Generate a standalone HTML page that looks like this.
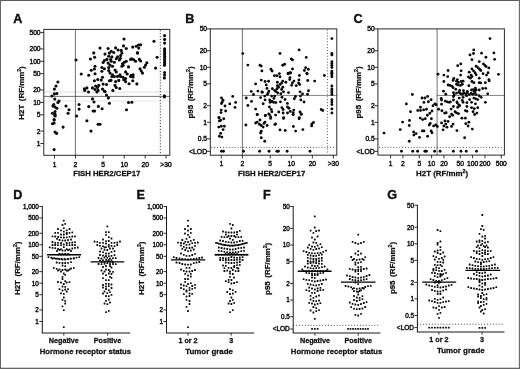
<!DOCTYPE html>
<html><head><meta charset="utf-8"><title>Figure</title>
<style>
html,body{margin:0;padding:0;background:#fff;}
body{width:520px;height:369px;overflow:hidden;}
svg{display:block;font-family:'Liberation Sans', Arial, sans-serif;font-weight:bold;}
text{stroke:#111;stroke-width:0.26px;}
</style></head><body>
<svg width="520" height="369" viewBox="0 0 520 369">
<rect width="520" height="369" fill="#fff"/>
<line x1="43.8" y1="92" x2="169.8" y2="92" stroke="#cccccc" stroke-width="0.7"/>
<line x1="43.8" y1="101" x2="169.8" y2="101" stroke="#dcdcdc" stroke-width="0.7"/>
<line x1="43.8" y1="96.4" x2="169.8" y2="96.4" stroke="#333" stroke-width="0.7"/>
<line x1="75.4" y1="29.4" x2="75.4" y2="155.3" stroke="#333" stroke-width="0.7"/>
<line x1="160.3" y1="30.2" x2="160.3" y2="153.4" stroke="#333" stroke-width="1.0" stroke-dasharray="1.1 1.8"/>
<text x="13.3" y="22.8" font-size="12.6" text-anchor="start" style="stroke-width:0.4px" fill="#111">A</text>
<rect x="43.8" y="29.4" width="126" height="125.9" fill="none" stroke="#2a2a2a" stroke-width="1"/>
<line x1="40.4" y1="32.57" x2="43.8" y2="32.57" stroke="#1a1a1a" stroke-width="0.9"/>
<text x="40.6" y="34.97" font-size="6.7" text-anchor="end" style="stroke-width:0.42px;font-weight:normal" fill="#111">500</text>
<line x1="40.4" y1="48.93" x2="43.8" y2="48.93" stroke="#1a1a1a" stroke-width="0.9"/>
<text x="40.6" y="51.33" font-size="6.7" text-anchor="end" style="stroke-width:0.42px;font-weight:normal" fill="#111">200</text>
<line x1="40.4" y1="61.3" x2="43.8" y2="61.3" stroke="#1a1a1a" stroke-width="0.9"/>
<text x="40.6" y="63.7" font-size="6.7" text-anchor="end" style="stroke-width:0.42px;font-weight:normal" fill="#111">100</text>
<line x1="40.4" y1="73.67" x2="43.8" y2="73.67" stroke="#1a1a1a" stroke-width="0.9"/>
<text x="40.6" y="76.07" font-size="6.7" text-anchor="end" style="stroke-width:0.42px;font-weight:normal" fill="#111">50</text>
<line x1="40.4" y1="90.03" x2="43.8" y2="90.03" stroke="#1a1a1a" stroke-width="0.9"/>
<text x="40.6" y="92.43" font-size="6.7" text-anchor="end" style="stroke-width:0.42px;font-weight:normal" fill="#111">20</text>
<line x1="40.4" y1="102.4" x2="43.8" y2="102.4" stroke="#1a1a1a" stroke-width="0.9"/>
<text x="40.6" y="104.8" font-size="6.7" text-anchor="end" style="stroke-width:0.42px;font-weight:normal" fill="#111">10</text>
<line x1="40.4" y1="114.77" x2="43.8" y2="114.77" stroke="#1a1a1a" stroke-width="0.9"/>
<text x="40.6" y="117.17" font-size="6.7" text-anchor="end" style="stroke-width:0.42px;font-weight:normal" fill="#111">5</text>
<line x1="40.4" y1="131.13" x2="43.8" y2="131.13" stroke="#1a1a1a" stroke-width="0.9"/>
<text x="40.6" y="133.53" font-size="6.7" text-anchor="end" style="stroke-width:0.42px;font-weight:normal" fill="#111">2</text>
<line x1="40.4" y1="143.5" x2="43.8" y2="143.5" stroke="#1a1a1a" stroke-width="0.9"/>
<text x="40.6" y="145.9" font-size="6.7" text-anchor="end" style="stroke-width:0.42px;font-weight:normal" fill="#111">1</text>
<line x1="54.5" y1="155.3" x2="54.5" y2="158.5" stroke="#1a1a1a" stroke-width="0.9"/>
<text x="54.5" y="166.5" font-size="6.7" text-anchor="middle" style="stroke-width:0.42px;font-weight:normal" fill="#111">1</text>
<line x1="75.48" y1="155.3" x2="75.48" y2="158.5" stroke="#1a1a1a" stroke-width="0.9"/>
<text x="75.48" y="166.5" font-size="6.7" text-anchor="middle" style="stroke-width:0.42px;font-weight:normal" fill="#111">2</text>
<line x1="103.22" y1="155.3" x2="103.22" y2="158.5" stroke="#1a1a1a" stroke-width="0.9"/>
<text x="103.22" y="166.5" font-size="6.7" text-anchor="middle" style="stroke-width:0.42px;font-weight:normal" fill="#111">5</text>
<line x1="124.2" y1="155.3" x2="124.2" y2="158.5" stroke="#1a1a1a" stroke-width="0.9"/>
<text x="124.2" y="166.5" font-size="6.7" text-anchor="middle" style="stroke-width:0.42px;font-weight:normal" fill="#111">10</text>
<line x1="145.18" y1="155.3" x2="145.18" y2="158.5" stroke="#1a1a1a" stroke-width="0.9"/>
<text x="145.18" y="166.5" font-size="6.7" text-anchor="middle" style="stroke-width:0.42px;font-weight:normal" fill="#111">20</text>
<line x1="166" y1="155.3" x2="166" y2="158.5" stroke="#1a1a1a" stroke-width="0.9"/>
<text x="166" y="166.5" font-size="6.7" text-anchor="middle" textLength="11.37" lengthAdjust="spacingAndGlyphs" style="stroke-width:0.42px;font-weight:normal" fill="#111">&gt;30</text>
<text x="24" y="119.7" font-size="7.9" text-anchor="start" word-spacing="1.4" transform="rotate(-90 24 119.7)" fill="#111" textLength="53.45" lengthAdjust="spacingAndGlyphs">H2T (RF/mm<tspan font-size="5.2" dy="-3.1">2</tspan><tspan dy="3.1">)</tspan></text>
<text x="106.8" y="176.3" font-size="7.9" text-anchor="middle" textLength="67.2" lengthAdjust="spacingAndGlyphs" fill="#111">FISH HER2/CEP17</text>
<line x1="242.4" y1="28.9" x2="242.4" y2="155.2" stroke="#333" stroke-width="0.7"/>
<line x1="242.4" y1="95.45" x2="336.8" y2="95.45" stroke="#333" stroke-width="0.6"/>
<line x1="211.3" y1="147.4" x2="335.3" y2="147.4" stroke="#444" stroke-width="0.9" stroke-dasharray="1 1.9"/>
<line x1="327.4" y1="29.7" x2="327.4" y2="153.4" stroke="#444" stroke-width="0.9" stroke-dasharray="1 1.9"/>
<text x="185.3" y="22.8" font-size="12.6" text-anchor="start" style="stroke-width:0.4px" fill="#111">B</text>
<rect x="210.3" y="28.9" width="126.5" height="126.3" fill="none" stroke="#2a2a2a" stroke-width="1"/>
<line x1="206.9" y1="28.86" x2="210.3" y2="28.86" stroke="#1a1a1a" stroke-width="0.9"/>
<text x="207.1" y="31.26" font-size="6.7" text-anchor="end" style="stroke-width:0.42px;font-weight:normal" fill="#111">50</text>
<line x1="206.9" y1="50.74" x2="210.3" y2="50.74" stroke="#1a1a1a" stroke-width="0.9"/>
<text x="207.1" y="53.14" font-size="6.7" text-anchor="end" style="stroke-width:0.42px;font-weight:normal" fill="#111">20</text>
<line x1="206.9" y1="67.3" x2="210.3" y2="67.3" stroke="#1a1a1a" stroke-width="0.9"/>
<text x="207.1" y="69.7" font-size="6.7" text-anchor="end" style="stroke-width:0.42px;font-weight:normal" fill="#111">10</text>
<line x1="206.9" y1="83.86" x2="210.3" y2="83.86" stroke="#1a1a1a" stroke-width="0.9"/>
<text x="207.1" y="86.26" font-size="6.7" text-anchor="end" style="stroke-width:0.42px;font-weight:normal" fill="#111">5</text>
<line x1="206.9" y1="105.74" x2="210.3" y2="105.74" stroke="#1a1a1a" stroke-width="0.9"/>
<text x="207.1" y="108.14" font-size="6.7" text-anchor="end" style="stroke-width:0.42px;font-weight:normal" fill="#111">2</text>
<line x1="206.9" y1="122.3" x2="210.3" y2="122.3" stroke="#1a1a1a" stroke-width="0.9"/>
<text x="207.1" y="124.7" font-size="6.7" text-anchor="end" style="stroke-width:0.42px;font-weight:normal" fill="#111">1</text>
<line x1="206.9" y1="138.86" x2="210.3" y2="138.86" stroke="#1a1a1a" stroke-width="0.9"/>
<text x="207.1" y="141.26" font-size="6.7" text-anchor="end" style="stroke-width:0.42px;font-weight:normal" fill="#111">0.5</text>
<line x1="206.9" y1="151.3" x2="210.3" y2="151.3" stroke="#1a1a1a" stroke-width="0.9"/>
<text x="207.1" y="153.7" font-size="6.7" text-anchor="end" textLength="18.06" lengthAdjust="spacingAndGlyphs" style="stroke-width:0.42px;font-weight:normal" fill="#111">&lt;LOD</text>
<line x1="221.3" y1="155.2" x2="221.3" y2="158.4" stroke="#1a1a1a" stroke-width="0.9"/>
<text x="221.3" y="166.4" font-size="6.7" text-anchor="middle" style="stroke-width:0.42px;font-weight:normal" fill="#111">1</text>
<line x1="242.37" y1="155.2" x2="242.37" y2="158.4" stroke="#1a1a1a" stroke-width="0.9"/>
<text x="242.37" y="166.4" font-size="6.7" text-anchor="middle" style="stroke-width:0.42px;font-weight:normal" fill="#111">2</text>
<line x1="270.23" y1="155.2" x2="270.23" y2="158.4" stroke="#1a1a1a" stroke-width="0.9"/>
<text x="270.23" y="166.4" font-size="6.7" text-anchor="middle" style="stroke-width:0.42px;font-weight:normal" fill="#111">5</text>
<line x1="291.3" y1="155.2" x2="291.3" y2="158.4" stroke="#1a1a1a" stroke-width="0.9"/>
<text x="291.3" y="166.4" font-size="6.7" text-anchor="middle" style="stroke-width:0.42px;font-weight:normal" fill="#111">10</text>
<line x1="312.37" y1="155.2" x2="312.37" y2="158.4" stroke="#1a1a1a" stroke-width="0.9"/>
<text x="312.37" y="166.4" font-size="6.7" text-anchor="middle" style="stroke-width:0.42px;font-weight:normal" fill="#111">20</text>
<line x1="333.4" y1="155.2" x2="333.4" y2="158.4" stroke="#1a1a1a" stroke-width="0.9"/>
<text x="333.4" y="166.4" font-size="6.7" text-anchor="middle" textLength="11.37" lengthAdjust="spacingAndGlyphs" style="stroke-width:0.42px;font-weight:normal" fill="#111">&gt;30</text>
<text x="193.3" y="118.5" font-size="7.9" text-anchor="start" word-spacing="1.4" transform="rotate(-90 193.3 118.5)" fill="#111" textLength="52.14" lengthAdjust="spacingAndGlyphs">p95 (RF/mm<tspan font-size="5.2" dy="-3.1">2</tspan><tspan dy="3.1">)</tspan></text>
<text x="271.6" y="176.3" font-size="7.9" text-anchor="middle" textLength="67.2" lengthAdjust="spacingAndGlyphs" fill="#111">FISH HER2/CEP17</text>
<line x1="437.1" y1="28.9" x2="437.1" y2="155.1" stroke="#333" stroke-width="0.7"/>
<line x1="437.1" y1="95.45" x2="504.4" y2="95.45" stroke="#333" stroke-width="0.6"/>
<line x1="378.9" y1="147.4" x2="503" y2="147.4" stroke="#444" stroke-width="0.9" stroke-dasharray="1 1.9"/>
<text x="353.5" y="22.8" font-size="12.6" text-anchor="start" style="stroke-width:0.4px" fill="#111">C</text>
<rect x="377.9" y="28.9" width="126.5" height="126.2" fill="none" stroke="#2a2a2a" stroke-width="1"/>
<line x1="374.5" y1="28.86" x2="377.9" y2="28.86" stroke="#1a1a1a" stroke-width="0.9"/>
<text x="374.7" y="31.26" font-size="6.7" text-anchor="end" style="stroke-width:0.42px;font-weight:normal" fill="#111">50</text>
<line x1="374.5" y1="50.74" x2="377.9" y2="50.74" stroke="#1a1a1a" stroke-width="0.9"/>
<text x="374.7" y="53.14" font-size="6.7" text-anchor="end" style="stroke-width:0.42px;font-weight:normal" fill="#111">20</text>
<line x1="374.5" y1="67.3" x2="377.9" y2="67.3" stroke="#1a1a1a" stroke-width="0.9"/>
<text x="374.7" y="69.7" font-size="6.7" text-anchor="end" style="stroke-width:0.42px;font-weight:normal" fill="#111">10</text>
<line x1="374.5" y1="83.86" x2="377.9" y2="83.86" stroke="#1a1a1a" stroke-width="0.9"/>
<text x="374.7" y="86.26" font-size="6.7" text-anchor="end" style="stroke-width:0.42px;font-weight:normal" fill="#111">5</text>
<line x1="374.5" y1="105.74" x2="377.9" y2="105.74" stroke="#1a1a1a" stroke-width="0.9"/>
<text x="374.7" y="108.14" font-size="6.7" text-anchor="end" style="stroke-width:0.42px;font-weight:normal" fill="#111">2</text>
<line x1="374.5" y1="122.3" x2="377.9" y2="122.3" stroke="#1a1a1a" stroke-width="0.9"/>
<text x="374.7" y="124.7" font-size="6.7" text-anchor="end" style="stroke-width:0.42px;font-weight:normal" fill="#111">1</text>
<line x1="374.5" y1="138.86" x2="377.9" y2="138.86" stroke="#1a1a1a" stroke-width="0.9"/>
<text x="374.7" y="141.26" font-size="6.7" text-anchor="end" style="stroke-width:0.42px;font-weight:normal" fill="#111">0.5</text>
<line x1="374.5" y1="151.3" x2="377.9" y2="151.3" stroke="#1a1a1a" stroke-width="0.9"/>
<text x="374.7" y="153.7" font-size="6.7" text-anchor="end" textLength="18.06" lengthAdjust="spacingAndGlyphs" style="stroke-width:0.42px;font-weight:normal" fill="#111">&lt;LOD</text>
<line x1="390.6" y1="155.1" x2="390.6" y2="158.3" stroke="#1a1a1a" stroke-width="0.9"/>
<text x="390.6" y="166.3" font-size="6.7" text-anchor="middle" style="stroke-width:0.42px;font-weight:normal" fill="#111">1</text>
<line x1="402.94" y1="155.1" x2="402.94" y2="158.3" stroke="#1a1a1a" stroke-width="0.9"/>
<text x="402.94" y="166.3" font-size="6.7" text-anchor="middle" style="stroke-width:0.42px;font-weight:normal" fill="#111">2</text>
<line x1="419.26" y1="155.1" x2="419.26" y2="158.3" stroke="#1a1a1a" stroke-width="0.9"/>
<text x="419.26" y="166.3" font-size="6.7" text-anchor="middle" style="stroke-width:0.42px;font-weight:normal" fill="#111">5</text>
<line x1="431.6" y1="155.1" x2="431.6" y2="158.3" stroke="#1a1a1a" stroke-width="0.9"/>
<text x="431.6" y="166.3" font-size="6.7" text-anchor="middle" style="stroke-width:0.42px;font-weight:normal" fill="#111">10</text>
<line x1="443.94" y1="155.1" x2="443.94" y2="158.3" stroke="#1a1a1a" stroke-width="0.9"/>
<text x="443.94" y="166.3" font-size="6.7" text-anchor="middle" style="stroke-width:0.42px;font-weight:normal" fill="#111">20</text>
<line x1="460.26" y1="155.1" x2="460.26" y2="158.3" stroke="#1a1a1a" stroke-width="0.9"/>
<text x="460.26" y="166.3" font-size="6.7" text-anchor="middle" style="stroke-width:0.42px;font-weight:normal" fill="#111">50</text>
<line x1="472.6" y1="155.1" x2="472.6" y2="158.3" stroke="#1a1a1a" stroke-width="0.9"/>
<text x="472.6" y="166.3" font-size="6.7" text-anchor="middle" style="stroke-width:0.42px;font-weight:normal" fill="#111">100</text>
<line x1="484.94" y1="155.1" x2="484.94" y2="158.3" stroke="#1a1a1a" stroke-width="0.9"/>
<text x="484.94" y="166.3" font-size="6.7" text-anchor="middle" style="stroke-width:0.42px;font-weight:normal" fill="#111">200</text>
<line x1="501.26" y1="155.1" x2="501.26" y2="158.3" stroke="#1a1a1a" stroke-width="0.9"/>
<text x="501.26" y="166.3" font-size="6.7" text-anchor="middle" style="stroke-width:0.42px;font-weight:normal" fill="#111">500</text>
<text x="361.2" y="118.5" font-size="7.9" text-anchor="start" word-spacing="1.4" transform="rotate(-90 361.2 118.5)" fill="#111" textLength="52.14" lengthAdjust="spacingAndGlyphs">p95 (RF/mm<tspan font-size="5.2" dy="-3.1">2</tspan><tspan dy="3.1">)</tspan></text>
<text x="442.1" y="176.3" font-size="7.9" text-anchor="middle" textLength="52.05" lengthAdjust="spacingAndGlyphs" fill="#111">H2T (RF/mm<tspan font-size="5.2" dy="-3.1">2</tspan><tspan dy="3.1">)</tspan></text>
<text x="13.2" y="199.4" font-size="12.6" text-anchor="start" style="stroke-width:0.4px" fill="#111">D</text>
<line x1="42.3" y1="206" x2="42.3" y2="333" stroke="#1a1a1a" stroke-width="1"/>
<line x1="41.8" y1="333" x2="130.2" y2="333" stroke="#1a1a1a" stroke-width="1"/>
<line x1="39.3" y1="206.45" x2="42.3" y2="206.45" stroke="#1a1a1a" stroke-width="0.9"/>
<text x="38.9" y="208.8" font-size="6.35" text-anchor="end" style="stroke-width:0.42px;font-weight:normal" fill="#111">1,000</text>
<line x1="39.3" y1="217.99" x2="42.3" y2="217.99" stroke="#1a1a1a" stroke-width="0.9"/>
<text x="38.9" y="220.34" font-size="6.35" text-anchor="end" style="stroke-width:0.42px;font-weight:normal" fill="#111">500</text>
<line x1="39.3" y1="233.26" x2="42.3" y2="233.26" stroke="#1a1a1a" stroke-width="0.9"/>
<text x="38.9" y="235.61" font-size="6.35" text-anchor="end" style="stroke-width:0.42px;font-weight:normal" fill="#111">200</text>
<line x1="39.3" y1="244.8" x2="42.3" y2="244.8" stroke="#1a1a1a" stroke-width="0.9"/>
<text x="38.9" y="247.15" font-size="6.35" text-anchor="end" style="stroke-width:0.42px;font-weight:normal" fill="#111">100</text>
<line x1="39.3" y1="256.34" x2="42.3" y2="256.34" stroke="#1a1a1a" stroke-width="0.9"/>
<text x="38.9" y="258.69" font-size="6.35" text-anchor="end" style="stroke-width:0.42px;font-weight:normal" fill="#111">50</text>
<line x1="39.3" y1="271.61" x2="42.3" y2="271.61" stroke="#1a1a1a" stroke-width="0.9"/>
<text x="38.9" y="273.96" font-size="6.35" text-anchor="end" style="stroke-width:0.42px;font-weight:normal" fill="#111">20</text>
<line x1="39.3" y1="283.15" x2="42.3" y2="283.15" stroke="#1a1a1a" stroke-width="0.9"/>
<text x="38.9" y="285.5" font-size="6.35" text-anchor="end" style="stroke-width:0.42px;font-weight:normal" fill="#111">10</text>
<line x1="39.3" y1="294.69" x2="42.3" y2="294.69" stroke="#1a1a1a" stroke-width="0.9"/>
<text x="38.9" y="297.04" font-size="6.35" text-anchor="end" style="stroke-width:0.42px;font-weight:normal" fill="#111">5</text>
<line x1="39.3" y1="309.96" x2="42.3" y2="309.96" stroke="#1a1a1a" stroke-width="0.9"/>
<text x="38.9" y="312.31" font-size="6.35" text-anchor="end" style="stroke-width:0.42px;font-weight:normal" fill="#111">2</text>
<line x1="39.3" y1="321.5" x2="42.3" y2="321.5" stroke="#1a1a1a" stroke-width="0.9"/>
<text x="38.9" y="323.85" font-size="6.35" text-anchor="end" style="stroke-width:0.42px;font-weight:normal" fill="#111">1</text>
<line x1="63.8" y1="333" x2="63.8" y2="335.6" stroke="#1a1a1a" stroke-width="0.9"/>
<text x="63.8" y="342.8" font-size="7.2" text-anchor="middle" fill="#111">Negative</text>
<line x1="107.6" y1="333" x2="107.6" y2="335.6" stroke="#1a1a1a" stroke-width="0.9"/>
<text x="107.6" y="342.8" font-size="7.2" text-anchor="middle" fill="#111">Positive</text>
<text x="19.9" y="295" font-size="7.9" text-anchor="start" word-spacing="1.4" transform="rotate(-90 19.9 295)" fill="#111" textLength="53.45" lengthAdjust="spacingAndGlyphs">H2T (RF/mm<tspan font-size="5.2" dy="-3.1">2</tspan><tspan dy="3.1">)</tspan></text>
<text x="85.4" y="354.1" font-size="7.9" text-anchor="middle" textLength="91.4" lengthAdjust="spacingAndGlyphs" fill="#111">Hormone receptor status</text>
<line x1="47.1" y1="254.7" x2="81.1" y2="254.7" stroke="#000" stroke-width="1.35"/>
<line x1="90.6" y1="261.9" x2="124.3" y2="261.9" stroke="#000" stroke-width="1.35"/>
<text x="136.4" y="199.4" font-size="12.6" text-anchor="start" style="stroke-width:0.4px" fill="#111">E</text>
<line x1="166.5" y1="206" x2="166.5" y2="333" stroke="#1a1a1a" stroke-width="1"/>
<line x1="166" y1="333" x2="254.2" y2="333" stroke="#1a1a1a" stroke-width="1"/>
<line x1="163.5" y1="206.45" x2="166.5" y2="206.45" stroke="#1a1a1a" stroke-width="0.9"/>
<text x="163.1" y="208.8" font-size="6.35" text-anchor="end" style="stroke-width:0.42px;font-weight:normal" fill="#111">1,000</text>
<line x1="163.5" y1="217.99" x2="166.5" y2="217.99" stroke="#1a1a1a" stroke-width="0.9"/>
<text x="163.1" y="220.34" font-size="6.35" text-anchor="end" style="stroke-width:0.42px;font-weight:normal" fill="#111">500</text>
<line x1="163.5" y1="233.26" x2="166.5" y2="233.26" stroke="#1a1a1a" stroke-width="0.9"/>
<text x="163.1" y="235.61" font-size="6.35" text-anchor="end" style="stroke-width:0.42px;font-weight:normal" fill="#111">200</text>
<line x1="163.5" y1="244.8" x2="166.5" y2="244.8" stroke="#1a1a1a" stroke-width="0.9"/>
<text x="163.1" y="247.15" font-size="6.35" text-anchor="end" style="stroke-width:0.42px;font-weight:normal" fill="#111">100</text>
<line x1="163.5" y1="256.34" x2="166.5" y2="256.34" stroke="#1a1a1a" stroke-width="0.9"/>
<text x="163.1" y="258.69" font-size="6.35" text-anchor="end" style="stroke-width:0.42px;font-weight:normal" fill="#111">50</text>
<line x1="163.5" y1="271.61" x2="166.5" y2="271.61" stroke="#1a1a1a" stroke-width="0.9"/>
<text x="163.1" y="273.96" font-size="6.35" text-anchor="end" style="stroke-width:0.42px;font-weight:normal" fill="#111">20</text>
<line x1="163.5" y1="283.15" x2="166.5" y2="283.15" stroke="#1a1a1a" stroke-width="0.9"/>
<text x="163.1" y="285.5" font-size="6.35" text-anchor="end" style="stroke-width:0.42px;font-weight:normal" fill="#111">10</text>
<line x1="163.5" y1="294.69" x2="166.5" y2="294.69" stroke="#1a1a1a" stroke-width="0.9"/>
<text x="163.1" y="297.04" font-size="6.35" text-anchor="end" style="stroke-width:0.42px;font-weight:normal" fill="#111">5</text>
<line x1="163.5" y1="309.96" x2="166.5" y2="309.96" stroke="#1a1a1a" stroke-width="0.9"/>
<text x="163.1" y="312.31" font-size="6.35" text-anchor="end" style="stroke-width:0.42px;font-weight:normal" fill="#111">2</text>
<line x1="163.5" y1="321.5" x2="166.5" y2="321.5" stroke="#1a1a1a" stroke-width="0.9"/>
<text x="163.1" y="323.85" font-size="6.35" text-anchor="end" style="stroke-width:0.42px;font-weight:normal" fill="#111">1</text>
<line x1="188" y1="333" x2="188" y2="335.6" stroke="#1a1a1a" stroke-width="0.9"/>
<text x="188" y="342.8" font-size="7.2" text-anchor="middle" fill="#111">1 or 2</text>
<line x1="231.2" y1="333" x2="231.2" y2="335.6" stroke="#1a1a1a" stroke-width="0.9"/>
<text x="231.2" y="342.8" font-size="7.2" text-anchor="middle" fill="#111">3</text>
<text x="143.9" y="295" font-size="7.9" text-anchor="start" word-spacing="1.4" transform="rotate(-90 143.9 295)" fill="#111" textLength="53.45" lengthAdjust="spacingAndGlyphs">H2T (RF/mm<tspan font-size="5.2" dy="-3.1">2</tspan><tspan dy="3.1">)</tspan></text>
<text x="209.1" y="354.1" font-size="7.9" text-anchor="middle" fill="#111">Tumor grade</text>
<line x1="171" y1="259.8" x2="205.2" y2="259.8" stroke="#000" stroke-width="1.35"/>
<line x1="214.6" y1="254.7" x2="248.4" y2="254.7" stroke="#000" stroke-width="1.35"/>
<line x1="293.2" y1="325.3" x2="379" y2="325.3" stroke="#333" stroke-width="0.9" stroke-dasharray="1 1.9"/>
<text x="263" y="199.4" font-size="12.6" text-anchor="start" style="stroke-width:0.4px" fill="#111">F</text>
<line x1="293.2" y1="206" x2="293.2" y2="333" stroke="#1a1a1a" stroke-width="1"/>
<line x1="292.7" y1="333" x2="380.4" y2="333" stroke="#1a1a1a" stroke-width="1"/>
<line x1="290.2" y1="206.49" x2="293.2" y2="206.49" stroke="#1a1a1a" stroke-width="0.9"/>
<text x="289.8" y="208.84" font-size="6.35" text-anchor="end" style="stroke-width:0.42px;font-weight:normal" fill="#111">50</text>
<line x1="290.2" y1="228.41" x2="293.2" y2="228.41" stroke="#1a1a1a" stroke-width="0.9"/>
<text x="289.8" y="230.76" font-size="6.35" text-anchor="end" style="stroke-width:0.42px;font-weight:normal" fill="#111">20</text>
<line x1="290.2" y1="245" x2="293.2" y2="245" stroke="#1a1a1a" stroke-width="0.9"/>
<text x="289.8" y="247.35" font-size="6.35" text-anchor="end" style="stroke-width:0.42px;font-weight:normal" fill="#111">10</text>
<line x1="290.2" y1="261.59" x2="293.2" y2="261.59" stroke="#1a1a1a" stroke-width="0.9"/>
<text x="289.8" y="263.94" font-size="6.35" text-anchor="end" style="stroke-width:0.42px;font-weight:normal" fill="#111">5</text>
<line x1="290.2" y1="283.51" x2="293.2" y2="283.51" stroke="#1a1a1a" stroke-width="0.9"/>
<text x="289.8" y="285.86" font-size="6.35" text-anchor="end" style="stroke-width:0.42px;font-weight:normal" fill="#111">2</text>
<line x1="290.2" y1="300.1" x2="293.2" y2="300.1" stroke="#1a1a1a" stroke-width="0.9"/>
<text x="289.8" y="302.45" font-size="6.35" text-anchor="end" style="stroke-width:0.42px;font-weight:normal" fill="#111">1</text>
<line x1="290.2" y1="316.69" x2="293.2" y2="316.69" stroke="#1a1a1a" stroke-width="0.9"/>
<text x="289.8" y="319.04" font-size="6.35" text-anchor="end" style="stroke-width:0.42px;font-weight:normal" fill="#111">0.5</text>
<line x1="290.2" y1="329" x2="293.2" y2="329" stroke="#1a1a1a" stroke-width="0.9"/>
<text x="289.8" y="331.35" font-size="6.35" text-anchor="end" textLength="17.11" lengthAdjust="spacingAndGlyphs" style="stroke-width:0.42px;font-weight:normal" fill="#111">&lt;LOD</text>
<line x1="315" y1="333" x2="315" y2="335.6" stroke="#1a1a1a" stroke-width="0.9"/>
<text x="315" y="342.8" font-size="7.2" text-anchor="middle" fill="#111">Negative</text>
<line x1="358.2" y1="333" x2="358.2" y2="335.6" stroke="#1a1a1a" stroke-width="0.9"/>
<text x="358.2" y="342.8" font-size="7.2" text-anchor="middle" fill="#111">Positive</text>
<text x="270.1" y="294.9" font-size="7.9" text-anchor="start" word-spacing="1.4" transform="rotate(-90 270.1 294.9)" fill="#111" textLength="52.14" lengthAdjust="spacingAndGlyphs">p95 (RF/mm<tspan font-size="5.2" dy="-3.1">2</tspan><tspan dy="3.1">)</tspan></text>
<text x="336.6" y="354.1" font-size="7.9" text-anchor="middle" textLength="91.5" lengthAdjust="spacingAndGlyphs" fill="#111">Hormone receptor status</text>
<line x1="297.7" y1="271.2" x2="331.6" y2="271.2" stroke="#000" stroke-width="1.35"/>
<line x1="341" y1="282.1" x2="375.5" y2="282.1" stroke="#000" stroke-width="1.35"/>
<line x1="417.4" y1="324.2" x2="503" y2="324.2" stroke="#333" stroke-width="0.9" stroke-dasharray="1 1.9"/>
<text x="387.2" y="199.4" font-size="12.6" text-anchor="start" style="stroke-width:0.4px" fill="#111">G</text>
<line x1="417.4" y1="204.7" x2="417.4" y2="332" stroke="#1a1a1a" stroke-width="1"/>
<line x1="416.9" y1="332" x2="504.5" y2="332" stroke="#1a1a1a" stroke-width="1"/>
<line x1="414.4" y1="205.29" x2="417.4" y2="205.29" stroke="#1a1a1a" stroke-width="0.9"/>
<text x="414" y="207.64" font-size="6.35" text-anchor="end" style="stroke-width:0.42px;font-weight:normal" fill="#111">50</text>
<line x1="414.4" y1="227.21" x2="417.4" y2="227.21" stroke="#1a1a1a" stroke-width="0.9"/>
<text x="414" y="229.56" font-size="6.35" text-anchor="end" style="stroke-width:0.42px;font-weight:normal" fill="#111">20</text>
<line x1="414.4" y1="243.8" x2="417.4" y2="243.8" stroke="#1a1a1a" stroke-width="0.9"/>
<text x="414" y="246.15" font-size="6.35" text-anchor="end" style="stroke-width:0.42px;font-weight:normal" fill="#111">10</text>
<line x1="414.4" y1="260.39" x2="417.4" y2="260.39" stroke="#1a1a1a" stroke-width="0.9"/>
<text x="414" y="262.74" font-size="6.35" text-anchor="end" style="stroke-width:0.42px;font-weight:normal" fill="#111">5</text>
<line x1="414.4" y1="282.31" x2="417.4" y2="282.31" stroke="#1a1a1a" stroke-width="0.9"/>
<text x="414" y="284.66" font-size="6.35" text-anchor="end" style="stroke-width:0.42px;font-weight:normal" fill="#111">2</text>
<line x1="414.4" y1="298.9" x2="417.4" y2="298.9" stroke="#1a1a1a" stroke-width="0.9"/>
<text x="414" y="301.25" font-size="6.35" text-anchor="end" style="stroke-width:0.42px;font-weight:normal" fill="#111">1</text>
<line x1="414.4" y1="315.49" x2="417.4" y2="315.49" stroke="#1a1a1a" stroke-width="0.9"/>
<text x="414" y="317.84" font-size="6.35" text-anchor="end" style="stroke-width:0.42px;font-weight:normal" fill="#111">0.5</text>
<line x1="414.4" y1="327.6" x2="417.4" y2="327.6" stroke="#1a1a1a" stroke-width="0.9"/>
<text x="414" y="329.95" font-size="6.35" text-anchor="end" textLength="17.11" lengthAdjust="spacingAndGlyphs" style="stroke-width:0.42px;font-weight:normal" fill="#111">&lt;LOD</text>
<line x1="438.9" y1="332" x2="438.9" y2="334.6" stroke="#1a1a1a" stroke-width="0.9"/>
<text x="438.9" y="341.7" font-size="7.2" text-anchor="middle" fill="#111">1 or 2</text>
<line x1="482.1" y1="332" x2="482.1" y2="334.6" stroke="#1a1a1a" stroke-width="0.9"/>
<text x="482.1" y="341.7" font-size="7.2" text-anchor="middle" fill="#111">3</text>
<text x="395.5" y="294.1" font-size="7.9" text-anchor="start" word-spacing="1.4" transform="rotate(-90 395.5 294.1)" fill="#111" textLength="52.14" lengthAdjust="spacingAndGlyphs">p95 (RF/mm<tspan font-size="5.2" dy="-3.1">2</tspan><tspan dy="3.1">)</tspan></text>
<text x="460.8" y="352.6" font-size="7.9" text-anchor="middle" fill="#111">Tumor grade</text>
<line x1="422.2" y1="282.1" x2="456.2" y2="282.1" stroke="#000" stroke-width="1.35"/>
<line x1="465.4" y1="270.4" x2="500.2" y2="270.4" stroke="#000" stroke-width="1.35"/>
<g fill="#0a0a0a">
<circle cx="76" cy="60" r="1.55"/>
<circle cx="100" cy="48.12" r="1.55"/>
<circle cx="93.75" cy="52.88" r="1.55"/>
<circle cx="94.62" cy="57.25" r="1.55"/>
<circle cx="90.38" cy="59" r="1.55"/>
<circle cx="95" cy="66.25" r="1.55"/>
<circle cx="91.25" cy="70.25" r="1.55"/>
<circle cx="94.38" cy="69" r="1.55"/>
<circle cx="81.25" cy="74" r="1.55"/>
<circle cx="88.75" cy="75.25" r="1.55"/>
<circle cx="95" cy="73.75" r="1.55"/>
<circle cx="108.12" cy="48.5" r="1.55"/>
<circle cx="105" cy="54.12" r="1.55"/>
<circle cx="109.38" cy="53.12" r="1.55"/>
<circle cx="111.25" cy="51.25" r="1.55"/>
<circle cx="113.75" cy="52.5" r="1.55"/>
<circle cx="115.62" cy="47.88" r="1.55"/>
<circle cx="118.12" cy="50" r="1.55"/>
<circle cx="121.25" cy="50.38" r="1.55"/>
<circle cx="121.88" cy="53.12" r="1.55"/>
<circle cx="120.62" cy="55.62" r="1.55"/>
<circle cx="117.5" cy="56.88" r="1.55"/>
<circle cx="119.38" cy="60" r="1.55"/>
<circle cx="116.25" cy="58.75" r="1.55"/>
<circle cx="111.88" cy="56.88" r="1.55"/>
<circle cx="108.75" cy="56.25" r="1.55"/>
<circle cx="110.62" cy="59.38" r="1.55"/>
<circle cx="106.88" cy="59.38" r="1.55"/>
<circle cx="104.38" cy="60.62" r="1.55"/>
<circle cx="103.12" cy="62.5" r="1.55"/>
<circle cx="108.12" cy="63.12" r="1.55"/>
<circle cx="111.25" cy="61.25" r="1.55"/>
<circle cx="114.38" cy="62.25" r="1.55"/>
<circle cx="110" cy="65" r="1.55"/>
<circle cx="112.5" cy="66.25" r="1.55"/>
<circle cx="108.75" cy="67.5" r="1.55"/>
<circle cx="101.88" cy="67.5" r="1.55"/>
<circle cx="104.38" cy="68.75" r="1.55"/>
<circle cx="101.88" cy="71.25" r="1.55"/>
<circle cx="108.75" cy="70.62" r="1.55"/>
<circle cx="110" cy="73.12" r="1.55"/>
<circle cx="115" cy="70" r="1.55"/>
<circle cx="116.25" cy="71.88" r="1.55"/>
<circle cx="112.5" cy="74.75" r="1.55"/>
<circle cx="120" cy="74.75" r="1.55"/>
<circle cx="124" cy="39" r="1.55"/>
<circle cx="123.5" cy="45.88" r="1.55"/>
<circle cx="126.25" cy="48.5" r="1.55"/>
<circle cx="132.75" cy="47.12" r="1.55"/>
<circle cx="136.25" cy="46.25" r="1.55"/>
<circle cx="137.5" cy="52.88" r="1.55"/>
<circle cx="131.88" cy="58.75" r="1.55"/>
<circle cx="133.75" cy="59.75" r="1.55"/>
<circle cx="130.62" cy="59.38" r="1.55"/>
<circle cx="135.62" cy="61.25" r="1.55"/>
<circle cx="126.25" cy="61.25" r="1.55"/>
<circle cx="124.38" cy="62.25" r="1.55"/>
<circle cx="122.5" cy="63.75" r="1.55"/>
<circle cx="121.88" cy="66.25" r="1.55"/>
<circle cx="123.12" cy="65.25" r="1.55"/>
<circle cx="128.5" cy="66.88" r="1.55"/>
<circle cx="125.62" cy="71.88" r="1.55"/>
<circle cx="127.25" cy="74" r="1.55"/>
<circle cx="133.12" cy="74.75" r="1.55"/>
<circle cx="131.25" cy="75.25" r="1.55"/>
<circle cx="138.5" cy="45" r="1.55"/>
<circle cx="140.62" cy="44.75" r="1.55"/>
<circle cx="138.75" cy="48.12" r="1.55"/>
<circle cx="137.5" cy="52.88" r="1.55"/>
<circle cx="139.38" cy="59.38" r="1.55"/>
<circle cx="140.62" cy="61" r="1.55"/>
<circle cx="146.88" cy="62.75" r="1.55"/>
<circle cx="145.62" cy="65" r="1.55"/>
<circle cx="144.38" cy="67.25" r="1.55"/>
<circle cx="140" cy="68.75" r="1.55"/>
<circle cx="141.25" cy="71" r="1.55"/>
<circle cx="142.5" cy="73.12" r="1.55"/>
<circle cx="154" cy="41.25" r="1.55"/>
<circle cx="157.12" cy="57.25" r="1.55"/>
<circle cx="155.62" cy="68.12" r="1.55"/>
<circle cx="164.62" cy="35.62" r="1.55"/>
<circle cx="164.62" cy="39.38" r="1.55"/>
<circle cx="164.62" cy="43.12" r="1.55"/>
<circle cx="164.62" cy="48.75" r="1.55"/>
<circle cx="164.62" cy="50.62" r="1.55"/>
<circle cx="164.62" cy="52.5" r="1.55"/>
<circle cx="164.62" cy="54.38" r="1.55"/>
<circle cx="164.62" cy="56.25" r="1.55"/>
<circle cx="164.62" cy="58.12" r="1.55"/>
<circle cx="164.62" cy="60" r="1.55"/>
<circle cx="164.62" cy="61.88" r="1.55"/>
<circle cx="164.62" cy="63.75" r="1.55"/>
<circle cx="164.62" cy="72.5" r="1.55"/>
<circle cx="164.62" cy="75" r="1.55"/>
<circle cx="57.88" cy="82" r="1.55"/>
<circle cx="56" cy="86" r="1.55"/>
<circle cx="54.38" cy="89.12" r="1.55"/>
<circle cx="56.88" cy="93.5" r="1.55"/>
<circle cx="54.38" cy="93.88" r="1.55"/>
<circle cx="51.88" cy="96" r="1.55"/>
<circle cx="54.75" cy="99.12" r="1.55"/>
<circle cx="59" cy="101" r="1.55"/>
<circle cx="57.88" cy="102.5" r="1.55"/>
<circle cx="53.75" cy="104.5" r="1.55"/>
<circle cx="52.88" cy="106" r="1.55"/>
<circle cx="55" cy="107" r="1.55"/>
<circle cx="56.88" cy="108.25" r="1.55"/>
<circle cx="55" cy="111.62" r="1.55"/>
<circle cx="52.5" cy="113.25" r="1.55"/>
<circle cx="55" cy="114.12" r="1.55"/>
<circle cx="55" cy="116" r="1.55"/>
<circle cx="54.12" cy="120" r="1.55"/>
<circle cx="66" cy="106" r="1.55"/>
<circle cx="69" cy="109.75" r="1.55"/>
<circle cx="68.12" cy="113.25" r="1.55"/>
<circle cx="76.62" cy="116" r="1.55"/>
<circle cx="79" cy="104.5" r="1.55"/>
<circle cx="79.12" cy="109.12" r="1.55"/>
<circle cx="86.88" cy="120.75" r="1.55"/>
<circle cx="88.75" cy="106.62" r="1.55"/>
<circle cx="92.5" cy="98.88" r="1.55"/>
<circle cx="94" cy="102" r="1.55"/>
<circle cx="98.38" cy="106.38" r="1.55"/>
<circle cx="102.12" cy="108.75" r="1.55"/>
<circle cx="93.12" cy="111" r="1.55"/>
<circle cx="94.62" cy="111" r="1.55"/>
<circle cx="94.38" cy="80.75" r="1.55"/>
<circle cx="97.75" cy="79.5" r="1.55"/>
<circle cx="101.25" cy="80.12" r="1.55"/>
<circle cx="102.5" cy="77.25" r="1.55"/>
<circle cx="103.12" cy="84.12" r="1.55"/>
<circle cx="98.75" cy="85.38" r="1.55"/>
<circle cx="95.62" cy="86" r="1.55"/>
<circle cx="97.5" cy="87.5" r="1.55"/>
<circle cx="92.5" cy="87.88" r="1.55"/>
<circle cx="95" cy="89.5" r="1.55"/>
<circle cx="98.12" cy="90.38" r="1.55"/>
<circle cx="96.88" cy="92" r="1.55"/>
<circle cx="102.5" cy="89.12" r="1.55"/>
<circle cx="104.38" cy="91" r="1.55"/>
<circle cx="86.88" cy="87.88" r="1.55"/>
<circle cx="84.38" cy="88.88" r="1.55"/>
<circle cx="84.75" cy="90.38" r="1.55"/>
<circle cx="88.5" cy="92" r="1.55"/>
<circle cx="164.38" cy="77.88" r="1.55"/>
<circle cx="164.38" cy="95.75" r="1.55"/>
<circle cx="164.38" cy="97" r="1.55"/>
<circle cx="136.88" cy="83.88" r="1.55"/>
<circle cx="132.75" cy="80.75" r="1.55"/>
<circle cx="129" cy="83.75" r="1.55"/>
<circle cx="125.62" cy="81.62" r="1.55"/>
<circle cx="123.75" cy="79.75" r="1.55"/>
<circle cx="118.75" cy="80.38" r="1.55"/>
<circle cx="115.62" cy="81.62" r="1.55"/>
<circle cx="115" cy="85.38" r="1.55"/>
<circle cx="116.25" cy="87.5" r="1.55"/>
<circle cx="119.75" cy="88.5" r="1.55"/>
<circle cx="112.88" cy="90.38" r="1.55"/>
<circle cx="109.38" cy="80.75" r="1.55"/>
<circle cx="111" cy="80.38" r="1.55"/>
<circle cx="106.5" cy="84.5" r="1.55"/>
<circle cx="105" cy="91.62" r="1.55"/>
<circle cx="106.5" cy="95" r="1.55"/>
<circle cx="108.38" cy="97.88" r="1.55"/>
<circle cx="109.38" cy="103.25" r="1.55"/>
<circle cx="128.5" cy="102.5" r="1.55"/>
<circle cx="131.88" cy="102.25" r="1.55"/>
<circle cx="126.5" cy="109.75" r="1.55"/>
<circle cx="111.88" cy="76.62" r="1.55"/>
<circle cx="114.38" cy="76.62" r="1.55"/>
<circle cx="117.5" cy="76.38" r="1.55"/>
<circle cx="120.62" cy="76.62" r="1.55"/>
<circle cx="123.12" cy="77.25" r="1.55"/>
<circle cx="125.62" cy="78.5" r="1.55"/>
<circle cx="130.62" cy="76.62" r="1.55"/>
<circle cx="133.12" cy="77" r="1.55"/>
<circle cx="55" cy="115.25" r="1.55"/>
<circle cx="54.12" cy="119.62" r="1.55"/>
<circle cx="52.5" cy="123.75" r="1.55"/>
<circle cx="54.12" cy="123" r="1.55"/>
<circle cx="63.12" cy="127.12" r="1.55"/>
<circle cx="55" cy="132.12" r="1.55"/>
<circle cx="56.62" cy="133.38" r="1.55"/>
<circle cx="54.12" cy="149.62" r="1.55"/>
<circle cx="98.12" cy="124.25" r="1.55"/>
<circle cx="100" cy="124.25" r="1.55"/>
<circle cx="91" cy="131.12" r="1.55"/>
<circle cx="164.5" cy="65.2" r="1.55"/>
<circle cx="120.4" cy="58.2" r="1.55"/>
<circle cx="242.75" cy="53.62" r="1.42"/>
<circle cx="247.88" cy="65.12" r="1.42"/>
<circle cx="260" cy="65.25" r="1.42"/>
<circle cx="261.25" cy="66.12" r="1.42"/>
<circle cx="261.88" cy="70.88" r="1.42"/>
<circle cx="271" cy="69.25" r="1.42"/>
<circle cx="272.12" cy="71.12" r="1.42"/>
<circle cx="280" cy="53.38" r="1.42"/>
<circle cx="299.12" cy="49.88" r="1.42"/>
<circle cx="291.25" cy="58.88" r="1.42"/>
<circle cx="292.5" cy="59.88" r="1.42"/>
<circle cx="306.25" cy="57.38" r="1.42"/>
<circle cx="282.75" cy="65.25" r="1.42"/>
<circle cx="284.62" cy="64.25" r="1.42"/>
<circle cx="292.5" cy="69" r="1.42"/>
<circle cx="305.62" cy="67.75" r="1.42"/>
<circle cx="308.38" cy="69.25" r="1.42"/>
<circle cx="304.38" cy="70.5" r="1.42"/>
<circle cx="279.38" cy="73.62" r="1.42"/>
<circle cx="288.12" cy="73.25" r="1.42"/>
<circle cx="290.25" cy="72.75" r="1.42"/>
<circle cx="306.88" cy="73.25" r="1.42"/>
<circle cx="331.88" cy="38.62" r="1.42"/>
<circle cx="331.88" cy="53.38" r="1.42"/>
<circle cx="331.88" cy="54.88" r="1.42"/>
<circle cx="331.88" cy="61.75" r="1.42"/>
<circle cx="331.88" cy="63.62" r="1.42"/>
<circle cx="331.88" cy="65.5" r="1.42"/>
<circle cx="331.88" cy="67.38" r="1.42"/>
<circle cx="331.88" cy="71.12" r="1.42"/>
<circle cx="331.88" cy="73" r="1.42"/>
<circle cx="221.5" cy="98" r="1.42"/>
<circle cx="223.12" cy="100.12" r="1.42"/>
<circle cx="222.25" cy="102" r="1.42"/>
<circle cx="221.5" cy="103.5" r="1.42"/>
<circle cx="225" cy="106" r="1.42"/>
<circle cx="229.75" cy="103.88" r="1.42"/>
<circle cx="232.75" cy="96.38" r="1.42"/>
<circle cx="235.62" cy="102.38" r="1.42"/>
<circle cx="235" cy="107.38" r="1.42"/>
<circle cx="225.62" cy="111" r="1.42"/>
<circle cx="221.25" cy="110.12" r="1.42"/>
<circle cx="221" cy="112.62" r="1.42"/>
<circle cx="219" cy="117.62" r="1.42"/>
<circle cx="255.62" cy="83.88" r="1.42"/>
<circle cx="261.25" cy="80.12" r="1.42"/>
<circle cx="251.25" cy="91.38" r="1.42"/>
<circle cx="253.5" cy="94.5" r="1.42"/>
<circle cx="257.88" cy="91.12" r="1.42"/>
<circle cx="261.88" cy="92" r="1.42"/>
<circle cx="260.62" cy="97.62" r="1.42"/>
<circle cx="246.25" cy="98" r="1.42"/>
<circle cx="251.5" cy="101.38" r="1.42"/>
<circle cx="247.88" cy="105.5" r="1.42"/>
<circle cx="255.62" cy="109.12" r="1.42"/>
<circle cx="257.25" cy="114.5" r="1.42"/>
<circle cx="269.38" cy="107" r="1.42"/>
<circle cx="271.25" cy="109.5" r="1.42"/>
<circle cx="271.88" cy="111.75" r="1.42"/>
<circle cx="268.75" cy="113.88" r="1.42"/>
<circle cx="265.38" cy="115.5" r="1.42"/>
<circle cx="270.62" cy="116.75" r="1.42"/>
<circle cx="274.38" cy="75.75" r="1.42"/>
<circle cx="331.88" cy="73.25" r="1.42"/>
<circle cx="331.88" cy="75.12" r="1.42"/>
<circle cx="331.88" cy="76.75" r="1.42"/>
<circle cx="331.88" cy="86" r="1.42"/>
<circle cx="331.88" cy="88.88" r="1.42"/>
<circle cx="331.88" cy="90.75" r="1.42"/>
<circle cx="331.88" cy="92.62" r="1.42"/>
<circle cx="331.88" cy="94.5" r="1.42"/>
<circle cx="331.88" cy="99.75" r="1.42"/>
<circle cx="331.88" cy="102" r="1.42"/>
<circle cx="331.88" cy="104.5" r="1.42"/>
<circle cx="331.88" cy="108.88" r="1.42"/>
<circle cx="331.88" cy="113" r="1.42"/>
<circle cx="324.38" cy="75.5" r="1.42"/>
<circle cx="314.62" cy="81.12" r="1.42"/>
<circle cx="307.12" cy="73.88" r="1.42"/>
<circle cx="307.75" cy="80.5" r="1.42"/>
<circle cx="308.5" cy="90.75" r="1.42"/>
<circle cx="307.5" cy="94.25" r="1.42"/>
<circle cx="321.25" cy="109.5" r="1.42"/>
<circle cx="322.75" cy="110.5" r="1.42"/>
<circle cx="299.38" cy="75.5" r="1.42"/>
<circle cx="290" cy="77.62" r="1.42"/>
<circle cx="288.12" cy="73.88" r="1.42"/>
<circle cx="290.62" cy="73" r="1.42"/>
<circle cx="280" cy="76.75" r="1.42"/>
<circle cx="276.88" cy="75.75" r="1.42"/>
<circle cx="302.5" cy="93.88" r="1.42"/>
<circle cx="304" cy="102" r="1.42"/>
<circle cx="287.5" cy="107" r="1.42"/>
<circle cx="289" cy="108.25" r="1.42"/>
<circle cx="281.88" cy="107.62" r="1.42"/>
<circle cx="283.12" cy="109.5" r="1.42"/>
<circle cx="278.75" cy="112" r="1.42"/>
<circle cx="283.12" cy="113" r="1.42"/>
<circle cx="287.5" cy="113" r="1.42"/>
<circle cx="290.25" cy="111.38" r="1.42"/>
<circle cx="293.75" cy="110.12" r="1.42"/>
<circle cx="293.12" cy="112.62" r="1.42"/>
<circle cx="293.12" cy="114.5" r="1.42"/>
<circle cx="300" cy="112" r="1.42"/>
<circle cx="301.25" cy="113.88" r="1.42"/>
<circle cx="275.62" cy="115.12" r="1.42"/>
<circle cx="283.75" cy="117.62" r="1.42"/>
<circle cx="299.38" cy="117.62" r="1.42"/>
<circle cx="219" cy="117.75" r="1.42"/>
<circle cx="223.75" cy="118.75" r="1.42"/>
<circle cx="220.62" cy="120.25" r="1.42"/>
<circle cx="219.38" cy="120.88" r="1.42"/>
<circle cx="218.75" cy="127.12" r="1.42"/>
<circle cx="221.25" cy="126.25" r="1.42"/>
<circle cx="224.38" cy="126.25" r="1.42"/>
<circle cx="223.12" cy="129.62" r="1.42"/>
<circle cx="220.62" cy="133.38" r="1.42"/>
<circle cx="219.38" cy="136.25" r="1.42"/>
<circle cx="221.88" cy="137.12" r="1.42"/>
<circle cx="221.5" cy="151.25" r="1.42"/>
<circle cx="223.5" cy="151.25" r="1.42"/>
<circle cx="243.5" cy="151.25" r="1.42"/>
<circle cx="259.62" cy="151.25" r="1.42"/>
<circle cx="269" cy="151.25" r="1.42"/>
<circle cx="245.88" cy="125" r="1.42"/>
<circle cx="255.62" cy="123" r="1.42"/>
<circle cx="257.25" cy="122.12" r="1.42"/>
<circle cx="260" cy="120" r="1.42"/>
<circle cx="259.38" cy="124.25" r="1.42"/>
<circle cx="261.25" cy="125.5" r="1.42"/>
<circle cx="265" cy="122.12" r="1.42"/>
<circle cx="264" cy="123.38" r="1.42"/>
<circle cx="267.12" cy="125.5" r="1.42"/>
<circle cx="263.12" cy="127.12" r="1.42"/>
<circle cx="261.25" cy="131.25" r="1.42"/>
<circle cx="260.62" cy="133" r="1.42"/>
<circle cx="261.25" cy="137.75" r="1.42"/>
<circle cx="264.75" cy="141.25" r="1.42"/>
<circle cx="257.25" cy="114.62" r="1.42"/>
<circle cx="265.38" cy="115.5" r="1.42"/>
<circle cx="269.38" cy="114.62" r="1.42"/>
<circle cx="270.62" cy="118.38" r="1.42"/>
<circle cx="274.75" cy="124.62" r="1.42"/>
<circle cx="283.5" cy="118.38" r="1.42"/>
<circle cx="299.12" cy="118.75" r="1.42"/>
<circle cx="293.38" cy="126.5" r="1.42"/>
<circle cx="280" cy="129.88" r="1.42"/>
<circle cx="285.25" cy="130.5" r="1.42"/>
<circle cx="295.62" cy="131.12" r="1.42"/>
<circle cx="302.88" cy="129.62" r="1.42"/>
<circle cx="313.5" cy="122.5" r="1.42"/>
<circle cx="311.88" cy="124" r="1.42"/>
<circle cx="311.62" cy="125.88" r="1.42"/>
<circle cx="275.62" cy="124" r="1.42"/>
<circle cx="293.12" cy="114.62" r="1.42"/>
<circle cx="301.25" cy="114.38" r="1.42"/>
<circle cx="276.88" cy="151.25" r="1.42"/>
<circle cx="278.38" cy="151.25" r="1.42"/>
<circle cx="287.12" cy="151.25" r="1.42"/>
<circle cx="310" cy="151.25" r="1.42"/>
<circle cx="265.08" cy="81.46" r="1.42"/>
<circle cx="268.54" cy="81.23" r="1.42"/>
<circle cx="266.23" cy="84.92" r="1.42"/>
<circle cx="267" cy="88.38" r="1.42"/>
<circle cx="277.38" cy="82.23" r="1.42"/>
<circle cx="282.77" cy="81.08" r="1.42"/>
<circle cx="281.62" cy="83" r="1.42"/>
<circle cx="285.85" cy="82.23" r="1.42"/>
<circle cx="280.08" cy="84.54" r="1.42"/>
<circle cx="277.38" cy="85.69" r="1.42"/>
<circle cx="278.54" cy="87.23" r="1.42"/>
<circle cx="277" cy="88.77" r="1.42"/>
<circle cx="272.38" cy="88.77" r="1.42"/>
<circle cx="274.69" cy="90.31" r="1.42"/>
<circle cx="275.85" cy="91.46" r="1.42"/>
<circle cx="282.77" cy="87.23" r="1.42"/>
<circle cx="281.62" cy="89.54" r="1.42"/>
<circle cx="283.54" cy="91.85" r="1.42"/>
<circle cx="268.92" cy="91.08" r="1.42"/>
<circle cx="268.15" cy="93" r="1.42"/>
<circle cx="267.38" cy="94.54" r="1.42"/>
<circle cx="262.38" cy="92.23" r="1.42"/>
<circle cx="264.69" cy="96.08" r="1.42"/>
<circle cx="277.77" cy="93" r="1.42"/>
<circle cx="280.85" cy="93.77" r="1.42"/>
<circle cx="288.54" cy="92.62" r="1.42"/>
<circle cx="271.62" cy="96.08" r="1.42"/>
<circle cx="274.69" cy="96.08" r="1.42"/>
<circle cx="273.92" cy="98.38" r="1.42"/>
<circle cx="282" cy="97.23" r="1.42"/>
<circle cx="285.08" cy="99.54" r="1.42"/>
<circle cx="265.08" cy="99.92" r="1.42"/>
<circle cx="269.69" cy="99.92" r="1.42"/>
<circle cx="270.08" cy="102.23" r="1.42"/>
<circle cx="272" cy="101.46" r="1.42"/>
<circle cx="273.54" cy="102.23" r="1.42"/>
<circle cx="275.85" cy="102.62" r="1.42"/>
<circle cx="280.46" cy="101.85" r="1.42"/>
<circle cx="287.38" cy="103.38" r="1.42"/>
<circle cx="263.15" cy="103.77" r="1.42"/>
<circle cx="289.69" cy="79.54" r="1.42"/>
<circle cx="293.92" cy="81.08" r="1.42"/>
<circle cx="292.38" cy="83" r="1.42"/>
<circle cx="291.62" cy="85.31" r="1.42"/>
<circle cx="298.54" cy="83" r="1.42"/>
<circle cx="299.69" cy="84.54" r="1.42"/>
<circle cx="296.23" cy="85.69" r="1.42"/>
<circle cx="298.92" cy="79.92" r="1.42"/>
<circle cx="300.08" cy="91.85" r="1.42"/>
<circle cx="295.46" cy="96.46" r="1.42"/>
<circle cx="294.31" cy="98.77" r="1.42"/>
<circle cx="300.46" cy="96.08" r="1.42"/>
<circle cx="300.85" cy="99.92" r="1.42"/>
<circle cx="490" cy="38.62" r="1.42"/>
<circle cx="473.75" cy="49.88" r="1.42"/>
<circle cx="438" cy="74.25" r="1.42"/>
<circle cx="412.38" cy="94.5" r="1.42"/>
<circle cx="406.38" cy="103.88" r="1.42"/>
<circle cx="410.5" cy="111.75" r="1.42"/>
<circle cx="422" cy="98" r="1.42"/>
<circle cx="424.88" cy="98" r="1.42"/>
<circle cx="427.62" cy="96.38" r="1.42"/>
<circle cx="431.12" cy="99.75" r="1.42"/>
<circle cx="428.38" cy="101.75" r="1.42"/>
<circle cx="423.88" cy="102.38" r="1.42"/>
<circle cx="420.5" cy="107.25" r="1.42"/>
<circle cx="417.75" cy="110.5" r="1.42"/>
<circle cx="420.5" cy="110.5" r="1.42"/>
<circle cx="423.62" cy="109.88" r="1.42"/>
<circle cx="426.5" cy="109.25" r="1.42"/>
<circle cx="432" cy="111" r="1.42"/>
<circle cx="429.88" cy="113.25" r="1.42"/>
<circle cx="433" cy="105.75" r="1.42"/>
<circle cx="434.88" cy="103.88" r="1.42"/>
<circle cx="436.12" cy="104.75" r="1.42"/>
<circle cx="438.62" cy="109.25" r="1.42"/>
<circle cx="384" cy="133.12" r="1.42"/>
<circle cx="400.25" cy="129.62" r="1.42"/>
<circle cx="402.62" cy="122.12" r="1.42"/>
<circle cx="409.5" cy="120.5" r="1.42"/>
<circle cx="409.25" cy="125.5" r="1.42"/>
<circle cx="409.25" cy="141.25" r="1.42"/>
<circle cx="413.62" cy="131.88" r="1.42"/>
<circle cx="416.12" cy="133.62" r="1.42"/>
<circle cx="413.88" cy="135" r="1.42"/>
<circle cx="419.5" cy="137.38" r="1.42"/>
<circle cx="422.38" cy="130.88" r="1.42"/>
<circle cx="424" cy="130.88" r="1.42"/>
<circle cx="427.62" cy="136.25" r="1.42"/>
<circle cx="431.12" cy="130.88" r="1.42"/>
<circle cx="432" cy="132.75" r="1.42"/>
<circle cx="429.25" cy="125" r="1.42"/>
<circle cx="430.25" cy="123.38" r="1.42"/>
<circle cx="433.62" cy="125.88" r="1.42"/>
<circle cx="435.75" cy="125" r="1.42"/>
<circle cx="437.38" cy="126.5" r="1.42"/>
<circle cx="420.25" cy="118.12" r="1.42"/>
<circle cx="422.62" cy="119.62" r="1.42"/>
<circle cx="425.25" cy="118.75" r="1.42"/>
<circle cx="427.38" cy="115.25" r="1.42"/>
<circle cx="431.38" cy="118.75" r="1.42"/>
<circle cx="401.5" cy="151.25" r="1.42"/>
<circle cx="412.75" cy="151.25" r="1.42"/>
<circle cx="417.62" cy="151.25" r="1.42"/>
<circle cx="424.88" cy="151.25" r="1.42"/>
<circle cx="426.5" cy="151.25" r="1.42"/>
<circle cx="434.62" cy="151.25" r="1.42"/>
<circle cx="440.12" cy="151.25" r="1.42"/>
<circle cx="464.62" cy="137.75" r="1.42"/>
<circle cx="453.38" cy="151.25" r="1.42"/>
<circle cx="461" cy="151.25" r="1.42"/>
<circle cx="466.25" cy="151.25" r="1.42"/>
<circle cx="476.5" cy="151.25" r="1.42"/>
<circle cx="470" cy="54.92" r="1.42"/>
<circle cx="473.46" cy="53.54" r="1.42"/>
<circle cx="471.92" cy="59.69" r="1.42"/>
<circle cx="479.23" cy="61.62" r="1.42"/>
<circle cx="460.77" cy="63.92" r="1.42"/>
<circle cx="457.69" cy="65.69" r="1.42"/>
<circle cx="448.08" cy="70.46" r="1.42"/>
<circle cx="461.15" cy="70.85" r="1.42"/>
<circle cx="443.85" cy="75.08" r="1.42"/>
<circle cx="447.69" cy="76.62" r="1.42"/>
<circle cx="460.62" cy="75.08" r="1.42"/>
<circle cx="469.23" cy="72.15" r="1.42"/>
<circle cx="471.92" cy="68.92" r="1.42"/>
<circle cx="473.46" cy="70.85" r="1.42"/>
<circle cx="475" cy="72.77" r="1.42"/>
<circle cx="476.15" cy="74.69" r="1.42"/>
<circle cx="476.15" cy="66.23" r="1.42"/>
<circle cx="478.08" cy="67.77" r="1.42"/>
<circle cx="479.62" cy="69.31" r="1.42"/>
<circle cx="471.15" cy="75.08" r="1.42"/>
<circle cx="468.46" cy="77" r="1.42"/>
<circle cx="470.38" cy="78.15" r="1.42"/>
<circle cx="471.92" cy="76.62" r="1.42"/>
<circle cx="453.85" cy="78.54" r="1.42"/>
<circle cx="457.31" cy="79.69" r="1.42"/>
<circle cx="479.23" cy="78.15" r="1.42"/>
<circle cx="481.54" cy="53.15" r="1.42"/>
<circle cx="493.85" cy="52.92" r="1.42"/>
<circle cx="485.92" cy="57.23" r="1.42"/>
<circle cx="494.62" cy="59.31" r="1.42"/>
<circle cx="483.46" cy="63.92" r="1.42"/>
<circle cx="485" cy="65.46" r="1.42"/>
<circle cx="486.15" cy="66.62" r="1.42"/>
<circle cx="488.85" cy="67.92" r="1.42"/>
<circle cx="480.77" cy="70.46" r="1.42"/>
<circle cx="483.08" cy="73.69" r="1.42"/>
<circle cx="488.08" cy="72.77" r="1.42"/>
<circle cx="486.54" cy="75.08" r="1.42"/>
<circle cx="498.46" cy="74.31" r="1.42"/>
<circle cx="488.85" cy="79.69" r="1.42"/>
<circle cx="443.85" cy="81.54" r="1.42"/>
<circle cx="453.08" cy="80.38" r="1.42"/>
<circle cx="456.54" cy="81.15" r="1.42"/>
<circle cx="458.46" cy="82.31" r="1.42"/>
<circle cx="461.15" cy="81.54" r="1.42"/>
<circle cx="463.08" cy="81.15" r="1.42"/>
<circle cx="471.92" cy="81.54" r="1.42"/>
<circle cx="473.85" cy="82.69" r="1.42"/>
<circle cx="479.23" cy="82.69" r="1.42"/>
<circle cx="456.54" cy="84.23" r="1.42"/>
<circle cx="458.08" cy="85" r="1.42"/>
<circle cx="460.38" cy="85.38" r="1.42"/>
<circle cx="462.31" cy="84.23" r="1.42"/>
<circle cx="448.08" cy="85" r="1.42"/>
<circle cx="450" cy="85.38" r="1.42"/>
<circle cx="451.92" cy="86.15" r="1.42"/>
<circle cx="453.08" cy="87.69" r="1.42"/>
<circle cx="468.85" cy="85.77" r="1.42"/>
<circle cx="455.77" cy="89.23" r="1.42"/>
<circle cx="443.46" cy="91.15" r="1.42"/>
<circle cx="459.62" cy="90.38" r="1.42"/>
<circle cx="463.46" cy="90.77" r="1.42"/>
<circle cx="467.31" cy="91.54" r="1.42"/>
<circle cx="471.54" cy="90" r="1.42"/>
<circle cx="473.46" cy="89.62" r="1.42"/>
<circle cx="475.38" cy="88.08" r="1.42"/>
<circle cx="476.15" cy="90" r="1.42"/>
<circle cx="474.23" cy="91.15" r="1.42"/>
<circle cx="445.77" cy="94.23" r="1.42"/>
<circle cx="453.46" cy="92.69" r="1.42"/>
<circle cx="454.23" cy="95" r="1.42"/>
<circle cx="456.54" cy="93.08" r="1.42"/>
<circle cx="458.85" cy="92.31" r="1.42"/>
<circle cx="460.38" cy="93.46" r="1.42"/>
<circle cx="462.31" cy="94.23" r="1.42"/>
<circle cx="463.85" cy="93.08" r="1.42"/>
<circle cx="465.77" cy="93.85" r="1.42"/>
<circle cx="467.31" cy="92.69" r="1.42"/>
<circle cx="469.23" cy="94.62" r="1.42"/>
<circle cx="471.15" cy="93.46" r="1.42"/>
<circle cx="473.08" cy="94.23" r="1.42"/>
<circle cx="475" cy="92.69" r="1.42"/>
<circle cx="476.15" cy="94.62" r="1.42"/>
<circle cx="479.23" cy="90" r="1.42"/>
<circle cx="479.23" cy="95.77" r="1.42"/>
<circle cx="441.15" cy="98.46" r="1.42"/>
<circle cx="441.54" cy="100" r="1.42"/>
<circle cx="453.46" cy="96.54" r="1.42"/>
<circle cx="459.23" cy="98.08" r="1.42"/>
<circle cx="463.08" cy="97.31" r="1.42"/>
<circle cx="462.31" cy="100.38" r="1.42"/>
<circle cx="466.54" cy="95.77" r="1.42"/>
<circle cx="469.62" cy="99.62" r="1.42"/>
<circle cx="473.85" cy="98.08" r="1.42"/>
<circle cx="475.77" cy="98.85" r="1.42"/>
<circle cx="477.69" cy="99.62" r="1.42"/>
<circle cx="445.38" cy="101.15" r="1.42"/>
<circle cx="447.31" cy="101.92" r="1.42"/>
<circle cx="449.23" cy="102.31" r="1.42"/>
<circle cx="450.38" cy="101.92" r="1.42"/>
<circle cx="453.46" cy="100" r="1.42"/>
<circle cx="456.92" cy="101.92" r="1.42"/>
<circle cx="457.31" cy="103.08" r="1.42"/>
<circle cx="463.08" cy="102.31" r="1.42"/>
<circle cx="466.92" cy="102.69" r="1.42"/>
<circle cx="471.54" cy="102.31" r="1.42"/>
<circle cx="475.38" cy="103.85" r="1.42"/>
<circle cx="441.54" cy="104.23" r="1.42"/>
<circle cx="458.85" cy="105" r="1.42"/>
<circle cx="459.62" cy="105.77" r="1.42"/>
<circle cx="453.46" cy="106.54" r="1.42"/>
<circle cx="466.92" cy="106.54" r="1.42"/>
<circle cx="457.69" cy="107.31" r="1.42"/>
<circle cx="471.54" cy="107.69" r="1.42"/>
<circle cx="477.69" cy="107.69" r="1.42"/>
<circle cx="489.23" cy="80.77" r="1.42"/>
<circle cx="485.38" cy="82.69" r="1.42"/>
<circle cx="480.77" cy="82.92" r="1.42"/>
<circle cx="482.69" cy="88.46" r="1.42"/>
<circle cx="485.77" cy="88.31" r="1.42"/>
<circle cx="487.69" cy="93.85" r="1.42"/>
<circle cx="481.15" cy="97.31" r="1.42"/>
<circle cx="485.38" cy="102.31" r="1.42"/>
<circle cx="451.15" cy="109.08" r="1.42"/>
<circle cx="441.92" cy="110.77" r="1.42"/>
<circle cx="444.62" cy="113.08" r="1.42"/>
<circle cx="446.15" cy="112.77" r="1.42"/>
<circle cx="465.38" cy="110.62" r="1.42"/>
<circle cx="466.92" cy="111.23" r="1.42"/>
<circle cx="474.23" cy="108.69" r="1.42"/>
<circle cx="473.08" cy="111.77" r="1.42"/>
<circle cx="476.92" cy="113.08" r="1.42"/>
<circle cx="474.62" cy="114.46" r="1.42"/>
<circle cx="455" cy="111.77" r="1.42"/>
<circle cx="456.54" cy="112.92" r="1.42"/>
<circle cx="458.46" cy="113.69" r="1.42"/>
<circle cx="451.54" cy="114.08" r="1.42"/>
<circle cx="452.69" cy="115.23" r="1.42"/>
<circle cx="449.62" cy="116.77" r="1.42"/>
<circle cx="461.92" cy="118.15" r="1.42"/>
<circle cx="465.38" cy="118.15" r="1.42"/>
<circle cx="445" cy="121" r="1.42"/>
<circle cx="448.08" cy="121.38" r="1.42"/>
<circle cx="441.54" cy="122.92" r="1.42"/>
<circle cx="445.77" cy="124.08" r="1.42"/>
<circle cx="443.85" cy="126" r="1.42"/>
<circle cx="446.92" cy="127.15" r="1.42"/>
<circle cx="443.08" cy="129.85" r="1.42"/>
<circle cx="453.08" cy="124.08" r="1.42"/>
<circle cx="451.54" cy="126.38" r="1.42"/>
<circle cx="468.85" cy="122.15" r="1.42"/>
<circle cx="465.77" cy="123.69" r="1.42"/>
<circle cx="468.08" cy="126" r="1.42"/>
<circle cx="472.31" cy="129.08" r="1.42"/>
<circle cx="456.92" cy="130.62" r="1.42"/>
<rect x="62.9" y="219.8" width="1.8" height="1.8" rx="0.5"/>
<rect x="64.3" y="222.9" width="1.8" height="1.8" rx="0.5"/>
<rect x="61.6" y="224.1" width="1.8" height="1.8" rx="0.5"/>
<rect x="62.9" y="227.3" width="1.8" height="1.8" rx="0.5"/>
<rect x="57.1" y="228.1" width="1.8" height="1.8" rx="0.5"/>
<rect x="60.1" y="229.4" width="1.8" height="1.8" rx="0.5"/>
<rect x="65.8" y="229.4" width="1.8" height="1.8" rx="0.5"/>
<rect x="68.6" y="228.1" width="1.8" height="1.8" rx="0.5"/>
<rect x="62.9" y="230.8" width="1.8" height="1.8" rx="0.5"/>
<rect x="54.3" y="231.9" width="1.8" height="1.8" rx="0.5"/>
<rect x="57.1" y="231.9" width="1.8" height="1.8" rx="0.5"/>
<rect x="60.1" y="233.6" width="1.8" height="1.8" rx="0.5"/>
<rect x="65.8" y="232.1" width="1.8" height="1.8" rx="0.5"/>
<rect x="68.6" y="231.9" width="1.8" height="1.8" rx="0.5"/>
<rect x="71.4" y="231.4" width="1.8" height="1.8" rx="0.5"/>
<rect x="62.9" y="233.6" width="1.8" height="1.8" rx="0.5"/>
<rect x="65.8" y="233.1" width="1.8" height="1.8" rx="0.5"/>
<rect x="51.6" y="235.4" width="1.8" height="1.8" rx="0.5"/>
<rect x="54.3" y="235.6" width="1.8" height="1.8" rx="0.5"/>
<rect x="57.3" y="236.1" width="1.8" height="1.8" rx="0.5"/>
<rect x="60.1" y="236.4" width="1.8" height="1.8" rx="0.5"/>
<rect x="62.9" y="236.6" width="1.8" height="1.8" rx="0.5"/>
<rect x="65.8" y="236.4" width="1.8" height="1.8" rx="0.5"/>
<rect x="68.6" y="235.9" width="1.8" height="1.8" rx="0.5"/>
<rect x="71.4" y="235.6" width="1.8" height="1.8" rx="0.5"/>
<rect x="74.1" y="235.4" width="1.8" height="1.8" rx="0.5"/>
<rect x="56.1" y="237.9" width="1.8" height="1.8" rx="0.5"/>
<rect x="58.6" y="239.1" width="1.8" height="1.8" rx="0.5"/>
<rect x="61.6" y="239.6" width="1.8" height="1.8" rx="0.5"/>
<rect x="64.3" y="239.6" width="1.8" height="1.8" rx="0.5"/>
<rect x="67.1" y="239.1" width="1.8" height="1.8" rx="0.5"/>
<rect x="70.1" y="238.6" width="1.8" height="1.8" rx="0.5"/>
<rect x="51.6" y="241.1" width="1.8" height="1.8" rx="0.5"/>
<rect x="54.3" y="241.9" width="1.8" height="1.8" rx="0.5"/>
<rect x="57.1" y="241.9" width="1.8" height="1.8" rx="0.5"/>
<rect x="60.1" y="242.1" width="1.8" height="1.8" rx="0.5"/>
<rect x="65.8" y="242.1" width="1.8" height="1.8" rx="0.5"/>
<rect x="68.6" y="241.9" width="1.8" height="1.8" rx="0.5"/>
<rect x="71.4" y="241.6" width="1.8" height="1.8" rx="0.5"/>
<rect x="74.1" y="241.3" width="1.8" height="1.8" rx="0.5"/>
<rect x="51.6" y="244.1" width="1.8" height="1.8" rx="0.5"/>
<rect x="54.3" y="244.1" width="1.8" height="1.8" rx="0.5"/>
<rect x="57.1" y="244.3" width="1.8" height="1.8" rx="0.5"/>
<rect x="60.1" y="244.3" width="1.8" height="1.8" rx="0.5"/>
<rect x="62.9" y="243.6" width="1.8" height="1.8" rx="0.5"/>
<rect x="65.8" y="244.3" width="1.8" height="1.8" rx="0.5"/>
<rect x="68.6" y="244.3" width="1.8" height="1.8" rx="0.5"/>
<rect x="71.4" y="244.1" width="1.8" height="1.8" rx="0.5"/>
<rect x="74.1" y="244.1" width="1.8" height="1.8" rx="0.5"/>
<rect x="48.8" y="246.4" width="1.8" height="1.8" rx="0.5"/>
<rect x="51.6" y="246.9" width="1.8" height="1.8" rx="0.5"/>
<rect x="54.3" y="247.3" width="1.8" height="1.8" rx="0.5"/>
<rect x="57.1" y="248.1" width="1.8" height="1.8" rx="0.5"/>
<rect x="60.1" y="248.3" width="1.8" height="1.8" rx="0.5"/>
<rect x="62.9" y="246.3" width="1.8" height="1.8" rx="0.5"/>
<rect x="65.8" y="248.3" width="1.8" height="1.8" rx="0.5"/>
<rect x="68.6" y="248.6" width="1.8" height="1.8" rx="0.5"/>
<rect x="71.4" y="247.6" width="1.8" height="1.8" rx="0.5"/>
<rect x="74.1" y="246.9" width="1.8" height="1.8" rx="0.5"/>
<rect x="76.9" y="246.6" width="1.8" height="1.8" rx="0.5"/>
<rect x="56.1" y="250.1" width="1.8" height="1.8" rx="0.5"/>
<rect x="58.6" y="249.1" width="1.8" height="1.8" rx="0.5"/>
<rect x="61.6" y="249.6" width="1.8" height="1.8" rx="0.5"/>
<rect x="64.3" y="249.6" width="1.8" height="1.8" rx="0.5"/>
<rect x="67.1" y="249.1" width="1.8" height="1.8" rx="0.5"/>
<rect x="70.1" y="250.1" width="1.8" height="1.8" rx="0.5"/>
<rect x="57.3" y="253.7" width="1.8" height="1.8" rx="0.5"/>
<rect x="60.1" y="253.7" width="1.8" height="1.8" rx="0.5"/>
<rect x="62.9" y="253.7" width="1.8" height="1.8" rx="0.5"/>
<rect x="65.7" y="253.7" width="1.8" height="1.8" rx="0.5"/>
<rect x="68.5" y="253.7" width="1.8" height="1.8" rx="0.5"/>
<rect x="58.7" y="253.1" width="1.8" height="1.8" rx="0.5"/>
<rect x="61.5" y="253.1" width="1.8" height="1.8" rx="0.5"/>
<rect x="64.3" y="253.1" width="1.8" height="1.8" rx="0.5"/>
<rect x="67.1" y="253.1" width="1.8" height="1.8" rx="0.5"/>
<rect x="47.6" y="256.3" width="1.8" height="1.8" rx="0.5"/>
<rect x="50.4" y="256.77" width="1.8" height="1.8" rx="0.5"/>
<rect x="53.2" y="257.25" width="1.8" height="1.8" rx="0.5"/>
<rect x="56" y="257.72" width="1.8" height="1.8" rx="0.5"/>
<rect x="58.8" y="258.19" width="1.8" height="1.8" rx="0.5"/>
<rect x="61.6" y="258.66" width="1.8" height="1.8" rx="0.5"/>
<rect x="64.4" y="258.66" width="1.8" height="1.8" rx="0.5"/>
<rect x="67.2" y="258.19" width="1.8" height="1.8" rx="0.5"/>
<rect x="70" y="257.72" width="1.8" height="1.8" rx="0.5"/>
<rect x="72.8" y="257.25" width="1.8" height="1.8" rx="0.5"/>
<rect x="75.6" y="256.77" width="1.8" height="1.8" rx="0.5"/>
<rect x="78.4" y="256.3" width="1.8" height="1.8" rx="0.5"/>
<rect x="51.6" y="257.6" width="1.8" height="1.8" rx="0.5"/>
<rect x="54.6" y="257.74" width="1.8" height="1.8" rx="0.5"/>
<rect x="57.6" y="257.88" width="1.8" height="1.8" rx="0.5"/>
<rect x="60.6" y="258.02" width="1.8" height="1.8" rx="0.5"/>
<rect x="63.6" y="258.04" width="1.8" height="1.8" rx="0.5"/>
<rect x="66.6" y="257.9" width="1.8" height="1.8" rx="0.5"/>
<rect x="69.6" y="257.75" width="1.8" height="1.8" rx="0.5"/>
<rect x="72.9" y="257.6" width="1.8" height="1.8" rx="0.5"/>
<rect x="55.8" y="261.6" width="1.8" height="1.8" rx="0.5"/>
<rect x="58.6" y="261.9" width="1.8" height="1.8" rx="0.5"/>
<rect x="61.6" y="262.1" width="1.8" height="1.8" rx="0.5"/>
<rect x="64.3" y="262.1" width="1.8" height="1.8" rx="0.5"/>
<rect x="67.1" y="261.9" width="1.8" height="1.8" rx="0.5"/>
<rect x="70.1" y="261.3" width="1.8" height="1.8" rx="0.5"/>
<rect x="61.6" y="264.6" width="1.8" height="1.8" rx="0.5"/>
<rect x="64.3" y="265.3" width="1.8" height="1.8" rx="0.5"/>
<rect x="52.9" y="266.9" width="1.8" height="1.8" rx="0.5"/>
<rect x="55.8" y="267.9" width="1.8" height="1.8" rx="0.5"/>
<rect x="57.1" y="269.6" width="1.8" height="1.8" rx="0.5"/>
<rect x="58.6" y="268.6" width="1.8" height="1.8" rx="0.5"/>
<rect x="60.1" y="270.6" width="1.8" height="1.8" rx="0.5"/>
<rect x="61.6" y="269.1" width="1.8" height="1.8" rx="0.5"/>
<rect x="64.3" y="268.6" width="1.8" height="1.8" rx="0.5"/>
<rect x="65.8" y="269.6" width="1.8" height="1.8" rx="0.5"/>
<rect x="67.1" y="269.6" width="1.8" height="1.8" rx="0.5"/>
<rect x="68.6" y="268.6" width="1.8" height="1.8" rx="0.5"/>
<rect x="70.1" y="267.6" width="1.8" height="1.8" rx="0.5"/>
<rect x="72.9" y="266.9" width="1.8" height="1.8" rx="0.5"/>
<rect x="62.9" y="272.6" width="1.8" height="1.8" rx="0.5"/>
<rect x="64.3" y="273.9" width="1.8" height="1.8" rx="0.5"/>
<rect x="61.6" y="275.9" width="1.8" height="1.8" rx="0.5"/>
<rect x="61.6" y="278.1" width="1.8" height="1.8" rx="0.5"/>
<rect x="57.1" y="281.1" width="1.8" height="1.8" rx="0.5"/>
<rect x="60.1" y="281.6" width="1.8" height="1.8" rx="0.5"/>
<rect x="64.3" y="280.3" width="1.8" height="1.8" rx="0.5"/>
<rect x="65.8" y="281.6" width="1.8" height="1.8" rx="0.5"/>
<rect x="68.6" y="281.3" width="1.8" height="1.8" rx="0.5"/>
<rect x="62.9" y="283.1" width="1.8" height="1.8" rx="0.5"/>
<rect x="61.6" y="285.6" width="1.8" height="1.8" rx="0.5"/>
<rect x="64.3" y="285.9" width="1.8" height="1.8" rx="0.5"/>
<rect x="58.6" y="288.3" width="1.8" height="1.8" rx="0.5"/>
<rect x="61.6" y="289.6" width="1.8" height="1.8" rx="0.5"/>
<rect x="64.3" y="288.6" width="1.8" height="1.8" rx="0.5"/>
<rect x="67.1" y="288.3" width="1.8" height="1.8" rx="0.5"/>
<rect x="65.8" y="290.6" width="1.8" height="1.8" rx="0.5"/>
<rect x="60.1" y="292.4" width="1.8" height="1.8" rx="0.5"/>
<rect x="62.9" y="292.9" width="1.8" height="1.8" rx="0.5"/>
<rect x="62.9" y="296.6" width="1.8" height="1.8" rx="0.5"/>
<rect x="61.6" y="298.9" width="1.8" height="1.8" rx="0.5"/>
<rect x="64.3" y="299.9" width="1.8" height="1.8" rx="0.5"/>
<rect x="64.3" y="302.6" width="1.8" height="1.8" rx="0.5"/>
<rect x="61.6" y="305.4" width="1.8" height="1.8" rx="0.5"/>
<rect x="62.9" y="309.3" width="1.8" height="1.8" rx="0.5"/>
<rect x="62.9" y="326.2" width="1.8" height="1.8" rx="0.5"/>
<rect x="106.4" y="225.4" width="1.8" height="1.8" rx="0.5"/>
<rect x="105.1" y="231.3" width="1.8" height="1.8" rx="0.5"/>
<rect x="107.9" y="231.3" width="1.8" height="1.8" rx="0.5"/>
<rect x="105.1" y="233.9" width="1.8" height="1.8" rx="0.5"/>
<rect x="107.9" y="236.3" width="1.8" height="1.8" rx="0.5"/>
<rect x="110.6" y="237.6" width="1.8" height="1.8" rx="0.5"/>
<rect x="102.1" y="238.6" width="1.8" height="1.8" rx="0.5"/>
<rect x="93.6" y="240.6" width="1.8" height="1.8" rx="0.5"/>
<rect x="96.4" y="240.9" width="1.8" height="1.8" rx="0.5"/>
<rect x="99.1" y="241.9" width="1.8" height="1.8" rx="0.5"/>
<rect x="102.1" y="241.9" width="1.8" height="1.8" rx="0.5"/>
<rect x="105.1" y="240.3" width="1.8" height="1.8" rx="0.5"/>
<rect x="107.9" y="240.1" width="1.8" height="1.8" rx="0.5"/>
<rect x="110.6" y="241.9" width="1.8" height="1.8" rx="0.5"/>
<rect x="113.6" y="241.9" width="1.8" height="1.8" rx="0.5"/>
<rect x="116.4" y="241.6" width="1.8" height="1.8" rx="0.5"/>
<rect x="119.1" y="240.6" width="1.8" height="1.8" rx="0.5"/>
<rect x="105.1" y="242.6" width="1.8" height="1.8" rx="0.5"/>
<rect x="96.4" y="244.1" width="1.8" height="1.8" rx="0.5"/>
<rect x="99.1" y="244.9" width="1.8" height="1.8" rx="0.5"/>
<rect x="102.1" y="245.3" width="1.8" height="1.8" rx="0.5"/>
<rect x="107.9" y="243.9" width="1.8" height="1.8" rx="0.5"/>
<rect x="110.6" y="244.9" width="1.8" height="1.8" rx="0.5"/>
<rect x="113.6" y="245.3" width="1.8" height="1.8" rx="0.5"/>
<rect x="116.4" y="244.1" width="1.8" height="1.8" rx="0.5"/>
<rect x="107.9" y="245.6" width="1.8" height="1.8" rx="0.5"/>
<rect x="100.6" y="247.6" width="1.8" height="1.8" rx="0.5"/>
<rect x="103.6" y="246.6" width="1.8" height="1.8" rx="0.5"/>
<rect x="105.1" y="246.3" width="1.8" height="1.8" rx="0.5"/>
<rect x="109.1" y="247.6" width="1.8" height="1.8" rx="0.5"/>
<rect x="112.1" y="247.6" width="1.8" height="1.8" rx="0.5"/>
<rect x="99.1" y="250.6" width="1.8" height="1.8" rx="0.5"/>
<rect x="102.1" y="251.3" width="1.8" height="1.8" rx="0.5"/>
<rect x="103.6" y="248.9" width="1.8" height="1.8" rx="0.5"/>
<rect x="106.4" y="249.1" width="1.8" height="1.8" rx="0.5"/>
<rect x="110.6" y="250.9" width="1.8" height="1.8" rx="0.5"/>
<rect x="113.6" y="250.3" width="1.8" height="1.8" rx="0.5"/>
<rect x="105.1" y="252.6" width="1.8" height="1.8" rx="0.5"/>
<rect x="107.9" y="252.6" width="1.8" height="1.8" rx="0.5"/>
<rect x="99.1" y="254.1" width="1.8" height="1.8" rx="0.5"/>
<rect x="102.1" y="254.6" width="1.8" height="1.8" rx="0.5"/>
<rect x="105.1" y="255.1" width="1.8" height="1.8" rx="0.5"/>
<rect x="107.9" y="255.3" width="1.8" height="1.8" rx="0.5"/>
<rect x="110.6" y="254.9" width="1.8" height="1.8" rx="0.5"/>
<rect x="113.6" y="254.3" width="1.8" height="1.8" rx="0.5"/>
<rect x="97.6" y="257.1" width="1.8" height="1.8" rx="0.5"/>
<rect x="100.6" y="257.6" width="1.8" height="1.8" rx="0.5"/>
<rect x="103.6" y="256.6" width="1.8" height="1.8" rx="0.5"/>
<rect x="106.4" y="256.9" width="1.8" height="1.8" rx="0.5"/>
<rect x="109.1" y="257.6" width="1.8" height="1.8" rx="0.5"/>
<rect x="112.1" y="257.3" width="1.8" height="1.8" rx="0.5"/>
<rect x="114.9" y="257.3" width="1.8" height="1.8" rx="0.5"/>
<rect x="99.1" y="259.6" width="1.8" height="1.8" rx="0.5"/>
<rect x="102.1" y="259.3" width="1.8" height="1.8" rx="0.5"/>
<rect x="105.1" y="258.9" width="1.8" height="1.8" rx="0.5"/>
<rect x="107.9" y="259.1" width="1.8" height="1.8" rx="0.5"/>
<rect x="110.6" y="259.3" width="1.8" height="1.8" rx="0.5"/>
<rect x="103.6" y="260.9" width="1.8" height="1.8" rx="0.5"/>
<rect x="106.4" y="260.3" width="1.8" height="1.8" rx="0.5"/>
<rect x="109.1" y="260.9" width="1.8" height="1.8" rx="0.5"/>
<rect x="100.8" y="261.1" width="1.8" height="1.8" rx="0.5"/>
<rect x="111.9" y="261.1" width="1.8" height="1.8" rx="0.5"/>
<rect x="97.6" y="263.1" width="1.8" height="1.8" rx="0.5"/>
<rect x="100.6" y="263.3" width="1.8" height="1.8" rx="0.5"/>
<rect x="103.6" y="262.9" width="1.8" height="1.8" rx="0.5"/>
<rect x="106.4" y="262.3" width="1.8" height="1.8" rx="0.5"/>
<rect x="109.1" y="263.1" width="1.8" height="1.8" rx="0.5"/>
<rect x="112.1" y="263.1" width="1.8" height="1.8" rx="0.5"/>
<rect x="114.9" y="263.3" width="1.8" height="1.8" rx="0.5"/>
<rect x="105.1" y="265.1" width="1.8" height="1.8" rx="0.5"/>
<rect x="109.1" y="265.1" width="1.8" height="1.8" rx="0.5"/>
<rect x="102.1" y="266.1" width="1.8" height="1.8" rx="0.5"/>
<rect x="110.6" y="266.6" width="1.8" height="1.8" rx="0.5"/>
<rect x="100.6" y="269.6" width="1.8" height="1.8" rx="0.5"/>
<rect x="103.6" y="270.6" width="1.8" height="1.8" rx="0.5"/>
<rect x="105.1" y="268.6" width="1.8" height="1.8" rx="0.5"/>
<rect x="107.9" y="269.1" width="1.8" height="1.8" rx="0.5"/>
<rect x="109.1" y="270.6" width="1.8" height="1.8" rx="0.5"/>
<rect x="112.1" y="270.9" width="1.8" height="1.8" rx="0.5"/>
<rect x="102.1" y="272.6" width="1.8" height="1.8" rx="0.5"/>
<rect x="105.1" y="274.3" width="1.8" height="1.8" rx="0.5"/>
<rect x="107.9" y="272.6" width="1.8" height="1.8" rx="0.5"/>
<rect x="110.6" y="273.1" width="1.8" height="1.8" rx="0.5"/>
<rect x="102.1" y="277.3" width="1.8" height="1.8" rx="0.5"/>
<rect x="109.1" y="275.9" width="1.8" height="1.8" rx="0.5"/>
<rect x="110.6" y="276.9" width="1.8" height="1.8" rx="0.5"/>
<rect x="105.1" y="279.3" width="1.8" height="1.8" rx="0.5"/>
<rect x="107.9" y="279.3" width="1.8" height="1.8" rx="0.5"/>
<rect x="102.1" y="284.1" width="1.8" height="1.8" rx="0.5"/>
<rect x="105.1" y="282.9" width="1.8" height="1.8" rx="0.5"/>
<rect x="107.9" y="282.9" width="1.8" height="1.8" rx="0.5"/>
<rect x="110.6" y="283.6" width="1.8" height="1.8" rx="0.5"/>
<rect x="102.1" y="286.6" width="1.8" height="1.8" rx="0.5"/>
<rect x="105.1" y="285.6" width="1.8" height="1.8" rx="0.5"/>
<rect x="107.9" y="285.3" width="1.8" height="1.8" rx="0.5"/>
<rect x="110.6" y="287.1" width="1.8" height="1.8" rx="0.5"/>
<rect x="105.1" y="288.1" width="1.8" height="1.8" rx="0.5"/>
<rect x="107.9" y="289.3" width="1.8" height="1.8" rx="0.5"/>
<rect x="103.6" y="290.6" width="1.8" height="1.8" rx="0.5"/>
<rect x="109.1" y="291.3" width="1.8" height="1.8" rx="0.5"/>
<rect x="102.1" y="292.6" width="1.8" height="1.8" rx="0.5"/>
<rect x="106.4" y="292.3" width="1.8" height="1.8" rx="0.5"/>
<rect x="110.6" y="293.9" width="1.8" height="1.8" rx="0.5"/>
<rect x="105.1" y="295.1" width="1.8" height="1.8" rx="0.5"/>
<rect x="107.9" y="295.3" width="1.8" height="1.8" rx="0.5"/>
<rect x="107.9" y="298.6" width="1.8" height="1.8" rx="0.5"/>
<rect x="105.1" y="299.9" width="1.8" height="1.8" rx="0.5"/>
<rect x="109.1" y="301.6" width="1.8" height="1.8" rx="0.5"/>
<rect x="103.6" y="302.6" width="1.8" height="1.8" rx="0.5"/>
<rect x="106.4" y="303.3" width="1.8" height="1.8" rx="0.5"/>
<rect x="107.9" y="309.9" width="1.8" height="1.8" rx="0.5"/>
<rect x="105.1" y="311.3" width="1.8" height="1.8" rx="0.5"/>
<rect x="187.1" y="219.8" width="1.8" height="1.8" rx="0.5"/>
<rect x="187.1" y="225.1" width="1.8" height="1.8" rx="0.5"/>
<rect x="184.1" y="228.1" width="1.8" height="1.8" rx="0.5"/>
<rect x="189.9" y="228.1" width="1.8" height="1.8" rx="0.5"/>
<rect x="187.1" y="229.6" width="1.8" height="1.8" rx="0.5"/>
<rect x="184.1" y="232.6" width="1.8" height="1.8" rx="0.5"/>
<rect x="189.9" y="231.9" width="1.8" height="1.8" rx="0.5"/>
<rect x="187.1" y="233.9" width="1.8" height="1.8" rx="0.5"/>
<rect x="188.6" y="236.3" width="1.8" height="1.8" rx="0.5"/>
<rect x="185.6" y="237.9" width="1.8" height="1.8" rx="0.5"/>
<rect x="181.4" y="239.1" width="1.8" height="1.8" rx="0.5"/>
<rect x="192.9" y="238.9" width="1.8" height="1.8" rx="0.5"/>
<rect x="189.9" y="239.9" width="1.8" height="1.8" rx="0.5"/>
<rect x="177.1" y="241.8" width="1.8" height="1.8" rx="0.5"/>
<rect x="180.1" y="242.1" width="1.8" height="1.8" rx="0.5"/>
<rect x="182.9" y="242.6" width="1.8" height="1.8" rx="0.5"/>
<rect x="184.3" y="240.9" width="1.8" height="1.8" rx="0.5"/>
<rect x="187.1" y="241.1" width="1.8" height="1.8" rx="0.5"/>
<rect x="191.3" y="242.3" width="1.8" height="1.8" rx="0.5"/>
<rect x="194.1" y="241.9" width="1.8" height="1.8" rx="0.5"/>
<rect x="196.9" y="241.6" width="1.8" height="1.8" rx="0.5"/>
<rect x="185.6" y="243.9" width="1.8" height="1.8" rx="0.5"/>
<rect x="188.6" y="243.6" width="1.8" height="1.8" rx="0.5"/>
<rect x="180.1" y="244.6" width="1.8" height="1.8" rx="0.5"/>
<rect x="194.1" y="244.9" width="1.8" height="1.8" rx="0.5"/>
<rect x="182.9" y="245.9" width="1.8" height="1.8" rx="0.5"/>
<rect x="185.6" y="246.9" width="1.8" height="1.8" rx="0.5"/>
<rect x="188.6" y="247.1" width="1.8" height="1.8" rx="0.5"/>
<rect x="191.3" y="246.6" width="1.8" height="1.8" rx="0.5"/>
<rect x="181.4" y="247.9" width="1.8" height="1.8" rx="0.5"/>
<rect x="192.9" y="248.6" width="1.8" height="1.8" rx="0.5"/>
<rect x="184.3" y="249.1" width="1.8" height="1.8" rx="0.5"/>
<rect x="189.9" y="249.6" width="1.8" height="1.8" rx="0.5"/>
<rect x="187.1" y="250.3" width="1.8" height="1.8" rx="0.5"/>
<rect x="180.1" y="252.6" width="1.8" height="1.8" rx="0.5"/>
<rect x="194.1" y="252.9" width="1.8" height="1.8" rx="0.5"/>
<rect x="182.9" y="253.9" width="1.8" height="1.8" rx="0.5"/>
<rect x="185.6" y="254.9" width="1.8" height="1.8" rx="0.5"/>
<rect x="188.6" y="254.9" width="1.8" height="1.8" rx="0.5"/>
<rect x="191.3" y="254.1" width="1.8" height="1.8" rx="0.5"/>
<rect x="172.9" y="256.3" width="1.8" height="1.8" rx="0.5"/>
<rect x="175.6" y="257.1" width="1.8" height="1.8" rx="0.5"/>
<rect x="178.6" y="257.6" width="1.8" height="1.8" rx="0.5"/>
<rect x="181.4" y="258.1" width="1.8" height="1.8" rx="0.5"/>
<rect x="184.3" y="258.3" width="1.8" height="1.8" rx="0.5"/>
<rect x="187.1" y="258.6" width="1.8" height="1.8" rx="0.5"/>
<rect x="189.9" y="258.3" width="1.8" height="1.8" rx="0.5"/>
<rect x="192.9" y="257.9" width="1.8" height="1.8" rx="0.5"/>
<rect x="195.6" y="257.6" width="1.8" height="1.8" rx="0.5"/>
<rect x="198.4" y="257.1" width="1.8" height="1.8" rx="0.5"/>
<rect x="201.1" y="256.6" width="1.8" height="1.8" rx="0.5"/>
<rect x="175.6" y="261.6" width="1.8" height="1.8" rx="0.5"/>
<rect x="178.6" y="262.1" width="1.8" height="1.8" rx="0.5"/>
<rect x="181.4" y="263.1" width="1.8" height="1.8" rx="0.5"/>
<rect x="184.3" y="263.6" width="1.8" height="1.8" rx="0.5"/>
<rect x="187.1" y="263.8" width="1.8" height="1.8" rx="0.5"/>
<rect x="189.9" y="263.6" width="1.8" height="1.8" rx="0.5"/>
<rect x="192.9" y="262.3" width="1.8" height="1.8" rx="0.5"/>
<rect x="195.6" y="261.6" width="1.8" height="1.8" rx="0.5"/>
<rect x="198.4" y="261.1" width="1.8" height="1.8" rx="0.5"/>
<rect x="185.6" y="266.9" width="1.8" height="1.8" rx="0.5"/>
<rect x="188.6" y="266.9" width="1.8" height="1.8" rx="0.5"/>
<rect x="180.1" y="268.6" width="1.8" height="1.8" rx="0.5"/>
<rect x="182.9" y="269.9" width="1.8" height="1.8" rx="0.5"/>
<rect x="185.6" y="270.6" width="1.8" height="1.8" rx="0.5"/>
<rect x="188.6" y="270.6" width="1.8" height="1.8" rx="0.5"/>
<rect x="191.3" y="270.1" width="1.8" height="1.8" rx="0.5"/>
<rect x="194.1" y="269.1" width="1.8" height="1.8" rx="0.5"/>
<rect x="184.3" y="272.9" width="1.8" height="1.8" rx="0.5"/>
<rect x="189.9" y="272.9" width="1.8" height="1.8" rx="0.5"/>
<rect x="187.1" y="274.6" width="1.8" height="1.8" rx="0.5"/>
<rect x="189.9" y="275.6" width="1.8" height="1.8" rx="0.5"/>
<rect x="184.3" y="278.1" width="1.8" height="1.8" rx="0.5"/>
<rect x="187.1" y="278.1" width="1.8" height="1.8" rx="0.5"/>
<rect x="184.3" y="280.9" width="1.8" height="1.8" rx="0.5"/>
<rect x="180.1" y="283.6" width="1.8" height="1.8" rx="0.5"/>
<rect x="182.9" y="284.6" width="1.8" height="1.8" rx="0.5"/>
<rect x="187.1" y="283.1" width="1.8" height="1.8" rx="0.5"/>
<rect x="189.9" y="282.3" width="1.8" height="1.8" rx="0.5"/>
<rect x="194.1" y="283.9" width="1.8" height="1.8" rx="0.5"/>
<rect x="185.6" y="285.3" width="1.8" height="1.8" rx="0.5"/>
<rect x="191.3" y="285.1" width="1.8" height="1.8" rx="0.5"/>
<rect x="180.1" y="287.1" width="1.8" height="1.8" rx="0.5"/>
<rect x="194.1" y="286.9" width="1.8" height="1.8" rx="0.5"/>
<rect x="182.9" y="288.3" width="1.8" height="1.8" rx="0.5"/>
<rect x="188.6" y="286.9" width="1.8" height="1.8" rx="0.5"/>
<rect x="191.3" y="287.9" width="1.8" height="1.8" rx="0.5"/>
<rect x="185.6" y="289.6" width="1.8" height="1.8" rx="0.5"/>
<rect x="188.6" y="289.3" width="1.8" height="1.8" rx="0.5"/>
<rect x="185.6" y="290.6" width="1.8" height="1.8" rx="0.5"/>
<rect x="182.9" y="293.3" width="1.8" height="1.8" rx="0.5"/>
<rect x="188.6" y="292.6" width="1.8" height="1.8" rx="0.5"/>
<rect x="191.3" y="292.9" width="1.8" height="1.8" rx="0.5"/>
<rect x="185.6" y="295.6" width="1.8" height="1.8" rx="0.5"/>
<rect x="188.6" y="295.1" width="1.8" height="1.8" rx="0.5"/>
<rect x="185.6" y="298.9" width="1.8" height="1.8" rx="0.5"/>
<rect x="188.6" y="300.1" width="1.8" height="1.8" rx="0.5"/>
<rect x="188.6" y="303.1" width="1.8" height="1.8" rx="0.5"/>
<rect x="185.6" y="305.9" width="1.8" height="1.8" rx="0.5"/>
<rect x="187.1" y="310.1" width="1.8" height="1.8" rx="0.5"/>
<rect x="187.1" y="326.2" width="1.8" height="1.8" rx="0.5"/>
<rect x="229.1" y="222.9" width="1.8" height="1.8" rx="0.5"/>
<rect x="231.9" y="224.1" width="1.8" height="1.8" rx="0.5"/>
<rect x="230.5" y="227.6" width="1.8" height="1.8" rx="0.5"/>
<rect x="222.1" y="230.6" width="1.8" height="1.8" rx="0.5"/>
<rect x="224.9" y="231.3" width="1.8" height="1.8" rx="0.5"/>
<rect x="227.7" y="231.6" width="1.8" height="1.8" rx="0.5"/>
<rect x="230.5" y="231.6" width="1.8" height="1.8" rx="0.5"/>
<rect x="233.3" y="231.6" width="1.8" height="1.8" rx="0.5"/>
<rect x="236.1" y="231.1" width="1.8" height="1.8" rx="0.5"/>
<rect x="238.9" y="229.9" width="1.8" height="1.8" rx="0.5"/>
<rect x="224.9" y="233.6" width="1.8" height="1.8" rx="0.5"/>
<rect x="236.1" y="233.6" width="1.8" height="1.8" rx="0.5"/>
<rect x="220.7" y="235.9" width="1.8" height="1.8" rx="0.5"/>
<rect x="223.5" y="236.3" width="1.8" height="1.8" rx="0.5"/>
<rect x="226.3" y="236.3" width="1.8" height="1.8" rx="0.5"/>
<rect x="227.7" y="235.1" width="1.8" height="1.8" rx="0.5"/>
<rect x="230.5" y="235.1" width="1.8" height="1.8" rx="0.5"/>
<rect x="233.3" y="235.1" width="1.8" height="1.8" rx="0.5"/>
<rect x="234.7" y="236.3" width="1.8" height="1.8" rx="0.5"/>
<rect x="237.5" y="236.3" width="1.8" height="1.8" rx="0.5"/>
<rect x="240.3" y="235.9" width="1.8" height="1.8" rx="0.5"/>
<rect x="229.1" y="237.6" width="1.8" height="1.8" rx="0.5"/>
<rect x="231.9" y="238.9" width="1.8" height="1.8" rx="0.5"/>
<rect x="219.3" y="239.6" width="1.8" height="1.8" rx="0.5"/>
<rect x="222.1" y="240.1" width="1.8" height="1.8" rx="0.5"/>
<rect x="224.9" y="240.9" width="1.8" height="1.8" rx="0.5"/>
<rect x="227.7" y="241.3" width="1.8" height="1.8" rx="0.5"/>
<rect x="230.5" y="241.6" width="1.8" height="1.8" rx="0.5"/>
<rect x="233.3" y="241.6" width="1.8" height="1.8" rx="0.5"/>
<rect x="236.1" y="240.9" width="1.8" height="1.8" rx="0.5"/>
<rect x="238.9" y="240.1" width="1.8" height="1.8" rx="0.5"/>
<rect x="241.7" y="239.9" width="1.8" height="1.8" rx="0.5"/>
<rect x="217.9" y="246.6" width="1.8" height="1.8" rx="0.5"/>
<rect x="220.7" y="247.1" width="1.8" height="1.8" rx="0.5"/>
<rect x="223.5" y="247.6" width="1.8" height="1.8" rx="0.5"/>
<rect x="226.3" y="248.1" width="1.8" height="1.8" rx="0.5"/>
<rect x="229.1" y="248.6" width="1.8" height="1.8" rx="0.5"/>
<rect x="231.9" y="248.6" width="1.8" height="1.8" rx="0.5"/>
<rect x="234.7" y="248.1" width="1.8" height="1.8" rx="0.5"/>
<rect x="237.5" y="247.3" width="1.8" height="1.8" rx="0.5"/>
<rect x="240.3" y="246.9" width="1.8" height="1.8" rx="0.5"/>
<rect x="243.1" y="246.6" width="1.8" height="1.8" rx="0.5"/>
<rect x="217.9" y="249.9" width="1.8" height="1.8" rx="0.5"/>
<rect x="220.7" y="250.3" width="1.8" height="1.8" rx="0.5"/>
<rect x="223.5" y="250.9" width="1.8" height="1.8" rx="0.5"/>
<rect x="237.5" y="250.9" width="1.8" height="1.8" rx="0.5"/>
<rect x="240.3" y="250.3" width="1.8" height="1.8" rx="0.5"/>
<rect x="243.1" y="249.9" width="1.8" height="1.8" rx="0.5"/>
<rect x="226.3" y="251.3" width="1.8" height="1.8" rx="0.5"/>
<rect x="229.1" y="251.6" width="1.8" height="1.8" rx="0.5"/>
<rect x="231.9" y="251.6" width="1.8" height="1.8" rx="0.5"/>
<rect x="234.7" y="251.3" width="1.8" height="1.8" rx="0.5"/>
<rect x="215.1" y="241.9" width="1.8" height="1.8" rx="0.5"/>
<rect x="217.9" y="242.77" width="1.8" height="1.8" rx="0.5"/>
<rect x="220.7" y="243.51" width="1.8" height="1.8" rx="0.5"/>
<rect x="223.5" y="244.11" width="1.8" height="1.8" rx="0.5"/>
<rect x="226.3" y="244.57" width="1.8" height="1.8" rx="0.5"/>
<rect x="229.1" y="244.85" width="1.8" height="1.8" rx="0.5"/>
<rect x="231.9" y="244.85" width="1.8" height="1.8" rx="0.5"/>
<rect x="234.7" y="244.57" width="1.8" height="1.8" rx="0.5"/>
<rect x="237.5" y="244.11" width="1.8" height="1.8" rx="0.5"/>
<rect x="240.3" y="243.51" width="1.8" height="1.8" rx="0.5"/>
<rect x="243.1" y="242.77" width="1.8" height="1.8" rx="0.5"/>
<rect x="245.9" y="241.9" width="1.8" height="1.8" rx="0.5"/>
<rect x="216.5" y="242.3" width="1.8" height="1.8" rx="0.5"/>
<rect x="219.3" y="243.06" width="1.8" height="1.8" rx="0.5"/>
<rect x="222.1" y="243.69" width="1.8" height="1.8" rx="0.5"/>
<rect x="224.9" y="244.19" width="1.8" height="1.8" rx="0.5"/>
<rect x="227.7" y="244.54" width="1.8" height="1.8" rx="0.5"/>
<rect x="230.5" y="244.7" width="1.8" height="1.8" rx="0.5"/>
<rect x="233.3" y="244.54" width="1.8" height="1.8" rx="0.5"/>
<rect x="236.1" y="244.19" width="1.8" height="1.8" rx="0.5"/>
<rect x="238.9" y="243.69" width="1.8" height="1.8" rx="0.5"/>
<rect x="241.7" y="243.06" width="1.8" height="1.8" rx="0.5"/>
<rect x="244.5" y="242.3" width="1.8" height="1.8" rx="0.5"/>
<rect x="215.1" y="253.7" width="1.8" height="1.8" rx="0.5"/>
<rect x="217.9" y="253.7" width="1.8" height="1.8" rx="0.5"/>
<rect x="220.7" y="253.7" width="1.8" height="1.8" rx="0.5"/>
<rect x="223.5" y="253.7" width="1.8" height="1.8" rx="0.5"/>
<rect x="226.3" y="253.7" width="1.8" height="1.8" rx="0.5"/>
<rect x="229.1" y="253.7" width="1.8" height="1.8" rx="0.5"/>
<rect x="231.9" y="253.7" width="1.8" height="1.8" rx="0.5"/>
<rect x="234.7" y="253.7" width="1.8" height="1.8" rx="0.5"/>
<rect x="237.5" y="253.7" width="1.8" height="1.8" rx="0.5"/>
<rect x="240.3" y="253.7" width="1.8" height="1.8" rx="0.5"/>
<rect x="243.1" y="253.7" width="1.8" height="1.8" rx="0.5"/>
<rect x="245.9" y="253.7" width="1.8" height="1.8" rx="0.5"/>
<rect x="224.9" y="253" width="1.8" height="1.8" rx="0.5"/>
<rect x="227.7" y="253" width="1.8" height="1.8" rx="0.5"/>
<rect x="230.5" y="253" width="1.8" height="1.8" rx="0.5"/>
<rect x="233.3" y="253" width="1.8" height="1.8" rx="0.5"/>
<rect x="236.1" y="253" width="1.8" height="1.8" rx="0.5"/>
<rect x="219.3" y="256.9" width="1.8" height="1.8" rx="0.5"/>
<rect x="222.1" y="257.1" width="1.8" height="1.8" rx="0.5"/>
<rect x="224.9" y="257.3" width="1.8" height="1.8" rx="0.5"/>
<rect x="227.7" y="256.9" width="1.8" height="1.8" rx="0.5"/>
<rect x="230.5" y="256.1" width="1.8" height="1.8" rx="0.5"/>
<rect x="233.3" y="256.6" width="1.8" height="1.8" rx="0.5"/>
<rect x="236.1" y="256.9" width="1.8" height="1.8" rx="0.5"/>
<rect x="238.9" y="256.6" width="1.8" height="1.8" rx="0.5"/>
<rect x="241.7" y="256.3" width="1.8" height="1.8" rx="0.5"/>
<rect x="219.3" y="259.1" width="1.8" height="1.8" rx="0.5"/>
<rect x="222.1" y="259.3" width="1.8" height="1.8" rx="0.5"/>
<rect x="224.9" y="259.1" width="1.8" height="1.8" rx="0.5"/>
<rect x="227.7" y="259.1" width="1.8" height="1.8" rx="0.5"/>
<rect x="230.5" y="259.1" width="1.8" height="1.8" rx="0.5"/>
<rect x="233.3" y="259.1" width="1.8" height="1.8" rx="0.5"/>
<rect x="236.1" y="258.9" width="1.8" height="1.8" rx="0.5"/>
<rect x="238.9" y="258.6" width="1.8" height="1.8" rx="0.5"/>
<rect x="241.7" y="259.1" width="1.8" height="1.8" rx="0.5"/>
<rect x="224.9" y="261.6" width="1.8" height="1.8" rx="0.5"/>
<rect x="227.7" y="261.9" width="1.8" height="1.8" rx="0.5"/>
<rect x="230.5" y="262.1" width="1.8" height="1.8" rx="0.5"/>
<rect x="233.3" y="261.9" width="1.8" height="1.8" rx="0.5"/>
<rect x="236.1" y="261.6" width="1.8" height="1.8" rx="0.5"/>
<rect x="238.9" y="261.1" width="1.8" height="1.8" rx="0.5"/>
<rect x="222.1" y="264.6" width="1.8" height="1.8" rx="0.5"/>
<rect x="224.9" y="264.9" width="1.8" height="1.8" rx="0.5"/>
<rect x="233.3" y="265.1" width="1.8" height="1.8" rx="0.5"/>
<rect x="236.1" y="264.3" width="1.8" height="1.8" rx="0.5"/>
<rect x="238.9" y="263.9" width="1.8" height="1.8" rx="0.5"/>
<rect x="223.5" y="267.3" width="1.8" height="1.8" rx="0.5"/>
<rect x="227.7" y="266.9" width="1.8" height="1.8" rx="0.5"/>
<rect x="230.5" y="267.1" width="1.8" height="1.8" rx="0.5"/>
<rect x="233.3" y="266.3" width="1.8" height="1.8" rx="0.5"/>
<rect x="236.1" y="266.9" width="1.8" height="1.8" rx="0.5"/>
<rect x="237.5" y="267.6" width="1.8" height="1.8" rx="0.5"/>
<rect x="223.5" y="270.1" width="1.8" height="1.8" rx="0.5"/>
<rect x="226.3" y="269.6" width="1.8" height="1.8" rx="0.5"/>
<rect x="229.1" y="270.6" width="1.8" height="1.8" rx="0.5"/>
<rect x="231.9" y="269.1" width="1.8" height="1.8" rx="0.5"/>
<rect x="234.7" y="270.3" width="1.8" height="1.8" rx="0.5"/>
<rect x="237.5" y="270.1" width="1.8" height="1.8" rx="0.5"/>
<rect x="229.1" y="272.6" width="1.8" height="1.8" rx="0.5"/>
<rect x="231.9" y="273.1" width="1.8" height="1.8" rx="0.5"/>
<rect x="229.1" y="275.9" width="1.8" height="1.8" rx="0.5"/>
<rect x="233.1" y="276.6" width="1.8" height="1.8" rx="0.5"/>
<rect x="227.7" y="278.9" width="1.8" height="1.8" rx="0.5"/>
<rect x="230.5" y="279.1" width="1.8" height="1.8" rx="0.5"/>
<rect x="224.9" y="280.3" width="1.8" height="1.8" rx="0.5"/>
<rect x="227.7" y="281.3" width="1.8" height="1.8" rx="0.5"/>
<rect x="236.1" y="281.3" width="1.8" height="1.8" rx="0.5"/>
<rect x="233.3" y="282.1" width="1.8" height="1.8" rx="0.5"/>
<rect x="230.5" y="282.6" width="1.8" height="1.8" rx="0.5"/>
<rect x="229.1" y="288.1" width="1.8" height="1.8" rx="0.5"/>
<rect x="231.9" y="289.3" width="1.8" height="1.8" rx="0.5"/>
<rect x="226.3" y="291.1" width="1.8" height="1.8" rx="0.5"/>
<rect x="234.7" y="290.9" width="1.8" height="1.8" rx="0.5"/>
<rect x="229.1" y="293.1" width="1.8" height="1.8" rx="0.5"/>
<rect x="231.9" y="292.6" width="1.8" height="1.8" rx="0.5"/>
<rect x="230.5" y="296.6" width="1.8" height="1.8" rx="0.5"/>
<rect x="231.9" y="298.9" width="1.8" height="1.8" rx="0.5"/>
<rect x="229.1" y="300.1" width="1.8" height="1.8" rx="0.5"/>
<rect x="233.3" y="301.9" width="1.8" height="1.8" rx="0.5"/>
<rect x="227.7" y="302.6" width="1.8" height="1.8" rx="0.5"/>
<rect x="230.5" y="303.1" width="1.8" height="1.8" rx="0.5"/>
<rect x="231.9" y="309.3" width="1.8" height="1.8" rx="0.5"/>
<rect x="229.1" y="311.3" width="1.8" height="1.8" rx="0.5"/>
<rect x="313.9" y="215.4" width="1.8" height="1.8" rx="0.5"/>
<rect x="313.9" y="226.6" width="1.8" height="1.8" rx="0.5"/>
<rect x="309.7" y="229.8" width="1.8" height="1.8" rx="0.5"/>
<rect x="315.3" y="230.1" width="1.8" height="1.8" rx="0.5"/>
<rect x="318.1" y="229.6" width="1.8" height="1.8" rx="0.5"/>
<rect x="312.5" y="231.9" width="1.8" height="1.8" rx="0.5"/>
<rect x="311.1" y="236.6" width="1.8" height="1.8" rx="0.5"/>
<rect x="316.7" y="235.6" width="1.8" height="1.8" rx="0.5"/>
<rect x="313.9" y="238.6" width="1.8" height="1.8" rx="0.5"/>
<rect x="312.5" y="241.6" width="1.8" height="1.8" rx="0.5"/>
<rect x="315.3" y="241.9" width="1.8" height="1.8" rx="0.5"/>
<rect x="308.3" y="243.9" width="1.8" height="1.8" rx="0.5"/>
<rect x="319.5" y="243.3" width="1.8" height="1.8" rx="0.5"/>
<rect x="316.7" y="244.6" width="1.8" height="1.8" rx="0.5"/>
<rect x="311.1" y="245.6" width="1.8" height="1.8" rx="0.5"/>
<rect x="313.9" y="245.9" width="1.8" height="1.8" rx="0.5"/>
<rect x="306.9" y="246.6" width="1.8" height="1.8" rx="0.5"/>
<rect x="320.9" y="246.3" width="1.8" height="1.8" rx="0.5"/>
<rect x="309.7" y="247.9" width="1.8" height="1.8" rx="0.5"/>
<rect x="312.5" y="248.9" width="1.8" height="1.8" rx="0.5"/>
<rect x="315.3" y="248.1" width="1.8" height="1.8" rx="0.5"/>
<rect x="318.1" y="247.6" width="1.8" height="1.8" rx="0.5"/>
<rect x="302.7" y="250.3" width="1.8" height="1.8" rx="0.5"/>
<rect x="305.5" y="251.1" width="1.8" height="1.8" rx="0.5"/>
<rect x="308.3" y="251.9" width="1.8" height="1.8" rx="0.5"/>
<rect x="311.1" y="252.3" width="1.8" height="1.8" rx="0.5"/>
<rect x="313.9" y="252.5" width="1.8" height="1.8" rx="0.5"/>
<rect x="316.7" y="252.3" width="1.8" height="1.8" rx="0.5"/>
<rect x="319.5" y="251.9" width="1.8" height="1.8" rx="0.5"/>
<rect x="322.3" y="250.9" width="1.8" height="1.8" rx="0.5"/>
<rect x="325.1" y="249.7" width="1.8" height="1.8" rx="0.5"/>
<rect x="306.9" y="253.9" width="1.8" height="1.8" rx="0.5"/>
<rect x="309.7" y="254.6" width="1.8" height="1.8" rx="0.5"/>
<rect x="312.5" y="255.1" width="1.8" height="1.8" rx="0.5"/>
<rect x="315.3" y="254.9" width="1.8" height="1.8" rx="0.5"/>
<rect x="318.1" y="254.3" width="1.8" height="1.8" rx="0.5"/>
<rect x="320.9" y="253.6" width="1.8" height="1.8" rx="0.5"/>
<rect x="306.9" y="256.9" width="1.8" height="1.8" rx="0.5"/>
<rect x="309.7" y="257.6" width="1.8" height="1.8" rx="0.5"/>
<rect x="312.5" y="258.1" width="1.8" height="1.8" rx="0.5"/>
<rect x="315.3" y="258.1" width="1.8" height="1.8" rx="0.5"/>
<rect x="318.1" y="257.6" width="1.8" height="1.8" rx="0.5"/>
<rect x="320.9" y="257.1" width="1.8" height="1.8" rx="0.5"/>
<rect x="306.9" y="260.1" width="1.8" height="1.8" rx="0.5"/>
<rect x="309.7" y="260.6" width="1.8" height="1.8" rx="0.5"/>
<rect x="312.5" y="260.3" width="1.8" height="1.8" rx="0.5"/>
<rect x="315.3" y="259.9" width="1.8" height="1.8" rx="0.5"/>
<rect x="318.1" y="260.1" width="1.8" height="1.8" rx="0.5"/>
<rect x="320.9" y="259.6" width="1.8" height="1.8" rx="0.5"/>
<rect x="306.9" y="262.6" width="1.8" height="1.8" rx="0.5"/>
<rect x="309.7" y="262.1" width="1.8" height="1.8" rx="0.5"/>
<rect x="312.5" y="261.6" width="1.8" height="1.8" rx="0.5"/>
<rect x="315.3" y="262.1" width="1.8" height="1.8" rx="0.5"/>
<rect x="318.1" y="262.6" width="1.8" height="1.8" rx="0.5"/>
<rect x="320.9" y="262.9" width="1.8" height="1.8" rx="0.5"/>
<rect x="311.1" y="264.6" width="1.8" height="1.8" rx="0.5"/>
<rect x="313.9" y="265.1" width="1.8" height="1.8" rx="0.5"/>
<rect x="316.7" y="264.9" width="1.8" height="1.8" rx="0.5"/>
<rect x="304.1" y="265.6" width="1.8" height="1.8" rx="0.5"/>
<rect x="323.7" y="265.6" width="1.8" height="1.8" rx="0.5"/>
<rect x="306.9" y="266.6" width="1.8" height="1.8" rx="0.5"/>
<rect x="309.7" y="267.3" width="1.8" height="1.8" rx="0.5"/>
<rect x="312.5" y="267.6" width="1.8" height="1.8" rx="0.5"/>
<rect x="315.3" y="267.3" width="1.8" height="1.8" rx="0.5"/>
<rect x="318.1" y="266.9" width="1.8" height="1.8" rx="0.5"/>
<rect x="320.9" y="266.3" width="1.8" height="1.8" rx="0.5"/>
<rect x="301.3" y="268.6" width="1.8" height="1.8" rx="0.5"/>
<rect x="326.5" y="268.6" width="1.8" height="1.8" rx="0.5"/>
<rect x="305.5" y="271.9" width="1.8" height="1.8" rx="0.5"/>
<rect x="308.3" y="272.3" width="1.8" height="1.8" rx="0.5"/>
<rect x="311.1" y="272.6" width="1.8" height="1.8" rx="0.5"/>
<rect x="313.9" y="272.9" width="1.8" height="1.8" rx="0.5"/>
<rect x="316.7" y="272.6" width="1.8" height="1.8" rx="0.5"/>
<rect x="319.5" y="272.3" width="1.8" height="1.8" rx="0.5"/>
<rect x="322.3" y="271.9" width="1.8" height="1.8" rx="0.5"/>
<rect x="311.1" y="274.1" width="1.8" height="1.8" rx="0.5"/>
<rect x="313.9" y="274.3" width="1.8" height="1.8" rx="0.5"/>
<rect x="316.7" y="274.1" width="1.8" height="1.8" rx="0.5"/>
<rect x="311.1" y="276.6" width="1.8" height="1.8" rx="0.5"/>
<rect x="313.9" y="276.9" width="1.8" height="1.8" rx="0.5"/>
<rect x="302.7" y="278.3" width="1.8" height="1.8" rx="0.5"/>
<rect x="305.5" y="278.9" width="1.8" height="1.8" rx="0.5"/>
<rect x="308.3" y="279.3" width="1.8" height="1.8" rx="0.5"/>
<rect x="311.1" y="279.9" width="1.8" height="1.8" rx="0.5"/>
<rect x="313.9" y="280.6" width="1.8" height="1.8" rx="0.5"/>
<rect x="316.7" y="280.1" width="1.8" height="1.8" rx="0.5"/>
<rect x="319.5" y="279.6" width="1.8" height="1.8" rx="0.5"/>
<rect x="322.3" y="279.1" width="1.8" height="1.8" rx="0.5"/>
<rect x="325.1" y="278.6" width="1.8" height="1.8" rx="0.5"/>
<rect x="302.7" y="270.1" width="1.8" height="1.8" rx="0.5"/>
<rect x="305.5" y="270.1" width="1.8" height="1.8" rx="0.5"/>
<rect x="308.3" y="270.1" width="1.8" height="1.8" rx="0.5"/>
<rect x="311.1" y="270.1" width="1.8" height="1.8" rx="0.5"/>
<rect x="313.9" y="270.1" width="1.8" height="1.8" rx="0.5"/>
<rect x="316.7" y="270.1" width="1.8" height="1.8" rx="0.5"/>
<rect x="319.5" y="270.1" width="1.8" height="1.8" rx="0.5"/>
<rect x="322.3" y="270.1" width="1.8" height="1.8" rx="0.5"/>
<rect x="325.1" y="270.1" width="1.8" height="1.8" rx="0.5"/>
<rect x="306.9" y="282.9" width="1.8" height="1.8" rx="0.5"/>
<rect x="309.7" y="283.6" width="1.8" height="1.8" rx="0.5"/>
<rect x="312.5" y="284.3" width="1.8" height="1.8" rx="0.5"/>
<rect x="315.3" y="284.6" width="1.8" height="1.8" rx="0.5"/>
<rect x="318.1" y="283.9" width="1.8" height="1.8" rx="0.5"/>
<rect x="320.9" y="283.1" width="1.8" height="1.8" rx="0.5"/>
<rect x="308.3" y="286.6" width="1.8" height="1.8" rx="0.5"/>
<rect x="311.1" y="287.6" width="1.8" height="1.8" rx="0.5"/>
<rect x="316.7" y="287.6" width="1.8" height="1.8" rx="0.5"/>
<rect x="319.5" y="286.9" width="1.8" height="1.8" rx="0.5"/>
<rect x="305.5" y="289.3" width="1.8" height="1.8" rx="0.5"/>
<rect x="308.3" y="289.9" width="1.8" height="1.8" rx="0.5"/>
<rect x="313.9" y="288.6" width="1.8" height="1.8" rx="0.5"/>
<rect x="316.7" y="290.1" width="1.8" height="1.8" rx="0.5"/>
<rect x="319.5" y="289.3" width="1.8" height="1.8" rx="0.5"/>
<rect x="322.3" y="288.9" width="1.8" height="1.8" rx="0.5"/>
<rect x="311.1" y="291.9" width="1.8" height="1.8" rx="0.5"/>
<rect x="313.9" y="291.9" width="1.8" height="1.8" rx="0.5"/>
<rect x="309.7" y="294.9" width="1.8" height="1.8" rx="0.5"/>
<rect x="312.5" y="296.9" width="1.8" height="1.8" rx="0.5"/>
<rect x="315.3" y="295.6" width="1.8" height="1.8" rx="0.5"/>
<rect x="318.1" y="294.6" width="1.8" height="1.8" rx="0.5"/>
<rect x="309.7" y="298.6" width="1.8" height="1.8" rx="0.5"/>
<rect x="312.5" y="299.9" width="1.8" height="1.8" rx="0.5"/>
<rect x="315.3" y="300.3" width="1.8" height="1.8" rx="0.5"/>
<rect x="318.1" y="299.6" width="1.8" height="1.8" rx="0.5"/>
<rect x="308.3" y="301.9" width="1.8" height="1.8" rx="0.5"/>
<rect x="311.1" y="302.6" width="1.8" height="1.8" rx="0.5"/>
<rect x="313.9" y="303.6" width="1.8" height="1.8" rx="0.5"/>
<rect x="316.7" y="302.9" width="1.8" height="1.8" rx="0.5"/>
<rect x="319.5" y="302.3" width="1.8" height="1.8" rx="0.5"/>
<rect x="312.5" y="306.1" width="1.8" height="1.8" rx="0.5"/>
<rect x="315.3" y="307.3" width="1.8" height="1.8" rx="0.5"/>
<rect x="309.7" y="309.6" width="1.8" height="1.8" rx="0.5"/>
<rect x="312.5" y="311.6" width="1.8" height="1.8" rx="0.5"/>
<rect x="315.3" y="310.3" width="1.8" height="1.8" rx="0.5"/>
<rect x="318.1" y="309.3" width="1.8" height="1.8" rx="0.5"/>
<rect x="313.9" y="317.9" width="1.8" height="1.8" rx="0.5"/>
<rect x="311.1" y="327.9" width="1.8" height="1.8" rx="0.5"/>
<rect x="313.9" y="327.9" width="1.8" height="1.8" rx="0.5"/>
<rect x="316.7" y="327.9" width="1.8" height="1.8" rx="0.5"/>
<rect x="357.3" y="233.8" width="1.8" height="1.8" rx="0.5"/>
<rect x="351.7" y="240.9" width="1.8" height="1.8" rx="0.5"/>
<rect x="354.5" y="242.1" width="1.8" height="1.8" rx="0.5"/>
<rect x="357.3" y="242.9" width="1.8" height="1.8" rx="0.5"/>
<rect x="360.1" y="242.1" width="1.8" height="1.8" rx="0.5"/>
<rect x="362.9" y="240.9" width="1.8" height="1.8" rx="0.5"/>
<rect x="357.3" y="250.3" width="1.8" height="1.8" rx="0.5"/>
<rect x="354.5" y="252.6" width="1.8" height="1.8" rx="0.5"/>
<rect x="360.1" y="252.6" width="1.8" height="1.8" rx="0.5"/>
<rect x="357.3" y="253.9" width="1.8" height="1.8" rx="0.5"/>
<rect x="350.3" y="256.1" width="1.8" height="1.8" rx="0.5"/>
<rect x="353.1" y="258.1" width="1.8" height="1.8" rx="0.5"/>
<rect x="355.9" y="258.9" width="1.8" height="1.8" rx="0.5"/>
<rect x="358.7" y="258.6" width="1.8" height="1.8" rx="0.5"/>
<rect x="361.5" y="258.1" width="1.8" height="1.8" rx="0.5"/>
<rect x="364.3" y="256.3" width="1.8" height="1.8" rx="0.5"/>
<rect x="351.7" y="259.1" width="1.8" height="1.8" rx="0.5"/>
<rect x="362.9" y="258.9" width="1.8" height="1.8" rx="0.5"/>
<rect x="354.5" y="261.6" width="1.8" height="1.8" rx="0.5"/>
<rect x="357.3" y="261.9" width="1.8" height="1.8" rx="0.5"/>
<rect x="360.1" y="261.3" width="1.8" height="1.8" rx="0.5"/>
<rect x="354.5" y="263.6" width="1.8" height="1.8" rx="0.5"/>
<rect x="357.3" y="266.3" width="1.8" height="1.8" rx="0.5"/>
<rect x="360.1" y="265.9" width="1.8" height="1.8" rx="0.5"/>
<rect x="348.9" y="267.9" width="1.8" height="1.8" rx="0.5"/>
<rect x="351.7" y="268.6" width="1.8" height="1.8" rx="0.5"/>
<rect x="354.5" y="269.1" width="1.8" height="1.8" rx="0.5"/>
<rect x="357.3" y="268.6" width="1.8" height="1.8" rx="0.5"/>
<rect x="360.1" y="268.3" width="1.8" height="1.8" rx="0.5"/>
<rect x="362.9" y="268.1" width="1.8" height="1.8" rx="0.5"/>
<rect x="365.7" y="267.6" width="1.8" height="1.8" rx="0.5"/>
<rect x="354.5" y="270.6" width="1.8" height="1.8" rx="0.5"/>
<rect x="357.3" y="270.3" width="1.8" height="1.8" rx="0.5"/>
<rect x="360.1" y="270.1" width="1.8" height="1.8" rx="0.5"/>
<rect x="357.3" y="272.9" width="1.8" height="1.8" rx="0.5"/>
<rect x="346.1" y="274.6" width="1.8" height="1.8" rx="0.5"/>
<rect x="348.9" y="275.3" width="1.8" height="1.8" rx="0.5"/>
<rect x="351.7" y="276.1" width="1.8" height="1.8" rx="0.5"/>
<rect x="354.5" y="276.6" width="1.8" height="1.8" rx="0.5"/>
<rect x="357.3" y="276.9" width="1.8" height="1.8" rx="0.5"/>
<rect x="360.1" y="276.6" width="1.8" height="1.8" rx="0.5"/>
<rect x="362.9" y="275.9" width="1.8" height="1.8" rx="0.5"/>
<rect x="365.7" y="275.1" width="1.8" height="1.8" rx="0.5"/>
<rect x="368.5" y="274.1" width="1.8" height="1.8" rx="0.5"/>
<rect x="348.9" y="278.1" width="1.8" height="1.8" rx="0.5"/>
<rect x="351.7" y="278.9" width="1.8" height="1.8" rx="0.5"/>
<rect x="354.5" y="279.3" width="1.8" height="1.8" rx="0.5"/>
<rect x="357.3" y="279.6" width="1.8" height="1.8" rx="0.5"/>
<rect x="360.1" y="279.3" width="1.8" height="1.8" rx="0.5"/>
<rect x="362.9" y="278.6" width="1.8" height="1.8" rx="0.5"/>
<rect x="365.7" y="278.3" width="1.8" height="1.8" rx="0.5"/>
<rect x="354.5" y="281.6" width="1.8" height="1.8" rx="0.5"/>
<rect x="357.3" y="283.3" width="1.8" height="1.8" rx="0.5"/>
<rect x="344.7" y="285.1" width="1.8" height="1.8" rx="0.5"/>
<rect x="347.5" y="285.6" width="1.8" height="1.8" rx="0.5"/>
<rect x="350.3" y="286.3" width="1.8" height="1.8" rx="0.5"/>
<rect x="353.1" y="287.3" width="1.8" height="1.8" rx="0.5"/>
<rect x="355.9" y="287.9" width="1.8" height="1.8" rx="0.5"/>
<rect x="358.7" y="287.6" width="1.8" height="1.8" rx="0.5"/>
<rect x="361.5" y="287.1" width="1.8" height="1.8" rx="0.5"/>
<rect x="364.3" y="286.1" width="1.8" height="1.8" rx="0.5"/>
<rect x="367.1" y="285.3" width="1.8" height="1.8" rx="0.5"/>
<rect x="369.9" y="284.9" width="1.8" height="1.8" rx="0.5"/>
<rect x="351.7" y="287.9" width="1.8" height="1.8" rx="0.5"/>
<rect x="362.9" y="287.6" width="1.8" height="1.8" rx="0.5"/>
<rect x="353.1" y="290.1" width="1.8" height="1.8" rx="0.5"/>
<rect x="355.9" y="290.6" width="1.8" height="1.8" rx="0.5"/>
<rect x="358.7" y="290.1" width="1.8" height="1.8" rx="0.5"/>
<rect x="360.1" y="289.3" width="1.8" height="1.8" rx="0.5"/>
<rect x="357.3" y="290.9" width="1.8" height="1.8" rx="0.5"/>
<rect x="357.3" y="293.6" width="1.8" height="1.8" rx="0.5"/>
<rect x="353.1" y="295.1" width="1.8" height="1.8" rx="0.5"/>
<rect x="361.5" y="295.3" width="1.8" height="1.8" rx="0.5"/>
<rect x="355.9" y="296.6" width="1.8" height="1.8" rx="0.5"/>
<rect x="358.7" y="296.9" width="1.8" height="1.8" rx="0.5"/>
<rect x="353.1" y="299.1" width="1.8" height="1.8" rx="0.5"/>
<rect x="355.9" y="300.1" width="1.8" height="1.8" rx="0.5"/>
<rect x="358.7" y="299.3" width="1.8" height="1.8" rx="0.5"/>
<rect x="361.5" y="298.3" width="1.8" height="1.8" rx="0.5"/>
<rect x="348.9" y="301.6" width="1.8" height="1.8" rx="0.5"/>
<rect x="351.7" y="302.9" width="1.8" height="1.8" rx="0.5"/>
<rect x="354.5" y="303.6" width="1.8" height="1.8" rx="0.5"/>
<rect x="357.3" y="303.9" width="1.8" height="1.8" rx="0.5"/>
<rect x="360.1" y="303.1" width="1.8" height="1.8" rx="0.5"/>
<rect x="362.9" y="302.1" width="1.8" height="1.8" rx="0.5"/>
<rect x="365.7" y="301.3" width="1.8" height="1.8" rx="0.5"/>
<rect x="350.3" y="306.3" width="1.8" height="1.8" rx="0.5"/>
<rect x="353.1" y="307.9" width="1.8" height="1.8" rx="0.5"/>
<rect x="355.9" y="308.3" width="1.8" height="1.8" rx="0.5"/>
<rect x="358.7" y="308.1" width="1.8" height="1.8" rx="0.5"/>
<rect x="361.5" y="307.6" width="1.8" height="1.8" rx="0.5"/>
<rect x="364.3" y="306.1" width="1.8" height="1.8" rx="0.5"/>
<rect x="354.5" y="313.9" width="1.8" height="1.8" rx="0.5"/>
<rect x="357.3" y="314.6" width="1.8" height="1.8" rx="0.5"/>
<rect x="360.1" y="312.9" width="1.8" height="1.8" rx="0.5"/>
<rect x="347.1" y="327.9" width="1.8" height="1.8" rx="0.5"/>
<rect x="349.6" y="327.9" width="1.8" height="1.8" rx="0.5"/>
<rect x="352.1" y="327.9" width="1.8" height="1.8" rx="0.5"/>
<rect x="354.6" y="327.9" width="1.8" height="1.8" rx="0.5"/>
<rect x="357.1" y="327.9" width="1.8" height="1.8" rx="0.5"/>
<rect x="359.6" y="327.9" width="1.8" height="1.8" rx="0.5"/>
<rect x="362.1" y="327.9" width="1.8" height="1.8" rx="0.5"/>
<rect x="364.6" y="327.9" width="1.8" height="1.8" rx="0.5"/>
<rect x="367.1" y="327.9" width="1.8" height="1.8" rx="0.5"/>
<rect x="436.7" y="229.1" width="1.8" height="1.8" rx="0.5"/>
<rect x="439.5" y="230.3" width="1.8" height="1.8" rx="0.5"/>
<rect x="439.5" y="240.6" width="1.8" height="1.8" rx="0.5"/>
<rect x="436.7" y="242.1" width="1.8" height="1.8" rx="0.5"/>
<rect x="436.7" y="243.6" width="1.8" height="1.8" rx="0.5"/>
<rect x="439.5" y="246.3" width="1.8" height="1.8" rx="0.5"/>
<rect x="436.7" y="249.6" width="1.8" height="1.8" rx="0.5"/>
<rect x="439.5" y="248.9" width="1.8" height="1.8" rx="0.5"/>
<rect x="433.9" y="250.6" width="1.8" height="1.8" rx="0.5"/>
<rect x="442.3" y="251.6" width="1.8" height="1.8" rx="0.5"/>
<rect x="436.7" y="252.1" width="1.8" height="1.8" rx="0.5"/>
<rect x="439.5" y="253.1" width="1.8" height="1.8" rx="0.5"/>
<rect x="432.5" y="255.3" width="1.8" height="1.8" rx="0.5"/>
<rect x="443.7" y="255.6" width="1.8" height="1.8" rx="0.5"/>
<rect x="435.3" y="256.3" width="1.8" height="1.8" rx="0.5"/>
<rect x="440.9" y="257.1" width="1.8" height="1.8" rx="0.5"/>
<rect x="438.1" y="257.9" width="1.8" height="1.8" rx="0.5"/>
<rect x="433.9" y="258.6" width="1.8" height="1.8" rx="0.5"/>
<rect x="442.3" y="258.9" width="1.8" height="1.8" rx="0.5"/>
<rect x="436.7" y="260.9" width="1.8" height="1.8" rx="0.5"/>
<rect x="439.5" y="261.3" width="1.8" height="1.8" rx="0.5"/>
<rect x="442.3" y="261.6" width="1.8" height="1.8" rx="0.5"/>
<rect x="433.9" y="263.9" width="1.8" height="1.8" rx="0.5"/>
<rect x="436.7" y="264.3" width="1.8" height="1.8" rx="0.5"/>
<rect x="439.5" y="263.9" width="1.8" height="1.8" rx="0.5"/>
<rect x="440.9" y="265.3" width="1.8" height="1.8" rx="0.5"/>
<rect x="435.3" y="266.6" width="1.8" height="1.8" rx="0.5"/>
<rect x="438.1" y="267.3" width="1.8" height="1.8" rx="0.5"/>
<rect x="432.5" y="268.1" width="1.8" height="1.8" rx="0.5"/>
<rect x="432.5" y="269.6" width="1.8" height="1.8" rx="0.5"/>
<rect x="435.3" y="269.3" width="1.8" height="1.8" rx="0.5"/>
<rect x="438.1" y="269.9" width="1.8" height="1.8" rx="0.5"/>
<rect x="440.9" y="270.1" width="1.8" height="1.8" rx="0.5"/>
<rect x="443.7" y="268.9" width="1.8" height="1.8" rx="0.5"/>
<rect x="431.1" y="271.9" width="1.8" height="1.8" rx="0.5"/>
<rect x="433.9" y="272.1" width="1.8" height="1.8" rx="0.5"/>
<rect x="436.7" y="272.9" width="1.8" height="1.8" rx="0.5"/>
<rect x="439.5" y="273.1" width="1.8" height="1.8" rx="0.5"/>
<rect x="442.3" y="272.9" width="1.8" height="1.8" rx="0.5"/>
<rect x="445.1" y="271.9" width="1.8" height="1.8" rx="0.5"/>
<rect x="439.5" y="274.6" width="1.8" height="1.8" rx="0.5"/>
<rect x="440.9" y="274.1" width="1.8" height="1.8" rx="0.5"/>
<rect x="433.9" y="275.3" width="1.8" height="1.8" rx="0.5"/>
<rect x="436.7" y="276.3" width="1.8" height="1.8" rx="0.5"/>
<rect x="439.5" y="275.6" width="1.8" height="1.8" rx="0.5"/>
<rect x="429.7" y="278.3" width="1.8" height="1.8" rx="0.5"/>
<rect x="432.5" y="279.1" width="1.8" height="1.8" rx="0.5"/>
<rect x="435.3" y="279.9" width="1.8" height="1.8" rx="0.5"/>
<rect x="438.1" y="280.1" width="1.8" height="1.8" rx="0.5"/>
<rect x="440.9" y="279.3" width="1.8" height="1.8" rx="0.5"/>
<rect x="443.7" y="278.3" width="1.8" height="1.8" rx="0.5"/>
<rect x="446.5" y="277.3" width="1.8" height="1.8" rx="0.5"/>
<rect x="433.9" y="281.6" width="1.8" height="1.8" rx="0.5"/>
<rect x="436.7" y="281.1" width="1.8" height="1.8" rx="0.5"/>
<rect x="438.1" y="281.9" width="1.8" height="1.8" rx="0.5"/>
<rect x="439.5" y="281.3" width="1.8" height="1.8" rx="0.5"/>
<rect x="425.5" y="283.6" width="1.8" height="1.8" rx="0.5"/>
<rect x="428.3" y="284.6" width="1.8" height="1.8" rx="0.5"/>
<rect x="431.1" y="285.3" width="1.8" height="1.8" rx="0.5"/>
<rect x="433.9" y="285.9" width="1.8" height="1.8" rx="0.5"/>
<rect x="436.7" y="286.3" width="1.8" height="1.8" rx="0.5"/>
<rect x="439.5" y="286.6" width="1.8" height="1.8" rx="0.5"/>
<rect x="442.3" y="286.1" width="1.8" height="1.8" rx="0.5"/>
<rect x="445.1" y="285.6" width="1.8" height="1.8" rx="0.5"/>
<rect x="447.9" y="284.6" width="1.8" height="1.8" rx="0.5"/>
<rect x="450.7" y="283.9" width="1.8" height="1.8" rx="0.5"/>
<rect x="436.7" y="284.3" width="1.8" height="1.8" rx="0.5"/>
<rect x="431.1" y="289.1" width="1.8" height="1.8" rx="0.5"/>
<rect x="433.9" y="289.9" width="1.8" height="1.8" rx="0.5"/>
<rect x="436.7" y="290.6" width="1.8" height="1.8" rx="0.5"/>
<rect x="439.5" y="290.6" width="1.8" height="1.8" rx="0.5"/>
<rect x="442.3" y="289.6" width="1.8" height="1.8" rx="0.5"/>
<rect x="445.1" y="288.6" width="1.8" height="1.8" rx="0.5"/>
<rect x="436.7" y="292.9" width="1.8" height="1.8" rx="0.5"/>
<rect x="439.5" y="293.1" width="1.8" height="1.8" rx="0.5"/>
<rect x="442.3" y="296.6" width="1.8" height="1.8" rx="0.5"/>
<rect x="433.9" y="297.9" width="1.8" height="1.8" rx="0.5"/>
<rect x="436.7" y="298.9" width="1.8" height="1.8" rx="0.5"/>
<rect x="439.5" y="298.3" width="1.8" height="1.8" rx="0.5"/>
<rect x="428.3" y="299.6" width="1.8" height="1.8" rx="0.5"/>
<rect x="431.1" y="300.3" width="1.8" height="1.8" rx="0.5"/>
<rect x="433.9" y="301.1" width="1.8" height="1.8" rx="0.5"/>
<rect x="436.7" y="301.9" width="1.8" height="1.8" rx="0.5"/>
<rect x="439.5" y="301.9" width="1.8" height="1.8" rx="0.5"/>
<rect x="442.3" y="301.3" width="1.8" height="1.8" rx="0.5"/>
<rect x="445.1" y="300.6" width="1.8" height="1.8" rx="0.5"/>
<rect x="447.9" y="300.3" width="1.8" height="1.8" rx="0.5"/>
<rect x="438.1" y="305.3" width="1.8" height="1.8" rx="0.5"/>
<rect x="432.5" y="306.6" width="1.8" height="1.8" rx="0.5"/>
<rect x="435.3" y="307.1" width="1.8" height="1.8" rx="0.5"/>
<rect x="440.9" y="306.6" width="1.8" height="1.8" rx="0.5"/>
<rect x="443.7" y="306.1" width="1.8" height="1.8" rx="0.5"/>
<rect x="438.1" y="308.9" width="1.8" height="1.8" rx="0.5"/>
<rect x="436.7" y="312.9" width="1.8" height="1.8" rx="0.5"/>
<rect x="439.5" y="311.9" width="1.8" height="1.8" rx="0.5"/>
<rect x="438.1" y="316.9" width="1.8" height="1.8" rx="0.5"/>
<rect x="428.3" y="326.7" width="1.8" height="1.8" rx="0.5"/>
<rect x="431.1" y="326.7" width="1.8" height="1.8" rx="0.5"/>
<rect x="433.9" y="326.7" width="1.8" height="1.8" rx="0.5"/>
<rect x="436.7" y="326.7" width="1.8" height="1.8" rx="0.5"/>
<rect x="439.5" y="326.7" width="1.8" height="1.8" rx="0.5"/>
<rect x="442.3" y="326.7" width="1.8" height="1.8" rx="0.5"/>
<rect x="445.1" y="326.7" width="1.8" height="1.8" rx="0.5"/>
<rect x="447.9" y="326.7" width="1.8" height="1.8" rx="0.5"/>
<rect x="481.4" y="214.1" width="1.8" height="1.8" rx="0.5"/>
<rect x="481.4" y="225.1" width="1.8" height="1.8" rx="0.5"/>
<rect x="480" y="228.3" width="1.8" height="1.8" rx="0.5"/>
<rect x="482.8" y="228.9" width="1.8" height="1.8" rx="0.5"/>
<rect x="478.6" y="232.9" width="1.8" height="1.8" rx="0.5"/>
<rect x="481.4" y="235.6" width="1.8" height="1.8" rx="0.5"/>
<rect x="484.2" y="234.9" width="1.8" height="1.8" rx="0.5"/>
<rect x="484.2" y="237.6" width="1.8" height="1.8" rx="0.5"/>
<rect x="475.8" y="240.6" width="1.8" height="1.8" rx="0.5"/>
<rect x="478.6" y="239.6" width="1.8" height="1.8" rx="0.5"/>
<rect x="478.6" y="241.3" width="1.8" height="1.8" rx="0.5"/>
<rect x="481.4" y="239.9" width="1.8" height="1.8" rx="0.5"/>
<rect x="484.2" y="241.6" width="1.8" height="1.8" rx="0.5"/>
<rect x="487" y="240.9" width="1.8" height="1.8" rx="0.5"/>
<rect x="481.4" y="242.9" width="1.8" height="1.8" rx="0.5"/>
<rect x="477.2" y="244.6" width="1.8" height="1.8" rx="0.5"/>
<rect x="480" y="244.3" width="1.8" height="1.8" rx="0.5"/>
<rect x="482.8" y="245.3" width="1.8" height="1.8" rx="0.5"/>
<rect x="485.6" y="244.6" width="1.8" height="1.8" rx="0.5"/>
<rect x="475.8" y="246.3" width="1.8" height="1.8" rx="0.5"/>
<rect x="478.6" y="247.3" width="1.8" height="1.8" rx="0.5"/>
<rect x="484.2" y="246.1" width="1.8" height="1.8" rx="0.5"/>
<rect x="487" y="246.6" width="1.8" height="1.8" rx="0.5"/>
<rect x="473" y="249.9" width="1.8" height="1.8" rx="0.5"/>
<rect x="475.8" y="250.6" width="1.8" height="1.8" rx="0.5"/>
<rect x="478.6" y="250.3" width="1.8" height="1.8" rx="0.5"/>
<rect x="481.4" y="249.3" width="1.8" height="1.8" rx="0.5"/>
<rect x="484.2" y="249.6" width="1.8" height="1.8" rx="0.5"/>
<rect x="487" y="250.3" width="1.8" height="1.8" rx="0.5"/>
<rect x="489.8" y="249.9" width="1.8" height="1.8" rx="0.5"/>
<rect x="475.8" y="252.3" width="1.8" height="1.8" rx="0.5"/>
<rect x="478.6" y="253.1" width="1.8" height="1.8" rx="0.5"/>
<rect x="481.4" y="252.1" width="1.8" height="1.8" rx="0.5"/>
<rect x="484.2" y="251.6" width="1.8" height="1.8" rx="0.5"/>
<rect x="484.2" y="253.3" width="1.8" height="1.8" rx="0.5"/>
<rect x="487" y="253.1" width="1.8" height="1.8" rx="0.5"/>
<rect x="481.4" y="255.1" width="1.8" height="1.8" rx="0.5"/>
<rect x="470.2" y="256.3" width="1.8" height="1.8" rx="0.5"/>
<rect x="473" y="257.1" width="1.8" height="1.8" rx="0.5"/>
<rect x="475.8" y="257.9" width="1.8" height="1.8" rx="0.5"/>
<rect x="478.6" y="258.3" width="1.8" height="1.8" rx="0.5"/>
<rect x="481.4" y="258.9" width="1.8" height="1.8" rx="0.5"/>
<rect x="484.2" y="258.3" width="1.8" height="1.8" rx="0.5"/>
<rect x="487" y="257.9" width="1.8" height="1.8" rx="0.5"/>
<rect x="489.8" y="257.1" width="1.8" height="1.8" rx="0.5"/>
<rect x="492.6" y="256.3" width="1.8" height="1.8" rx="0.5"/>
<rect x="474.4" y="260.6" width="1.8" height="1.8" rx="0.5"/>
<rect x="477.2" y="261.3" width="1.8" height="1.8" rx="0.5"/>
<rect x="480" y="261.6" width="1.8" height="1.8" rx="0.5"/>
<rect x="482.8" y="261.1" width="1.8" height="1.8" rx="0.5"/>
<rect x="485.6" y="260.6" width="1.8" height="1.8" rx="0.5"/>
<rect x="488.4" y="260.3" width="1.8" height="1.8" rx="0.5"/>
<rect x="480" y="263.1" width="1.8" height="1.8" rx="0.5"/>
<rect x="468.8" y="263.6" width="1.8" height="1.8" rx="0.5"/>
<rect x="471.6" y="264.3" width="1.8" height="1.8" rx="0.5"/>
<rect x="474.4" y="264.9" width="1.8" height="1.8" rx="0.5"/>
<rect x="477.2" y="265.3" width="1.8" height="1.8" rx="0.5"/>
<rect x="480" y="265.6" width="1.8" height="1.8" rx="0.5"/>
<rect x="482.8" y="265.6" width="1.8" height="1.8" rx="0.5"/>
<rect x="485.6" y="265.3" width="1.8" height="1.8" rx="0.5"/>
<rect x="488.4" y="264.9" width="1.8" height="1.8" rx="0.5"/>
<rect x="491.2" y="264.3" width="1.8" height="1.8" rx="0.5"/>
<rect x="494" y="263.6" width="1.8" height="1.8" rx="0.5"/>
<rect x="466" y="266.9" width="1.8" height="1.8" rx="0.5"/>
<rect x="468.8" y="267.3" width="1.8" height="1.8" rx="0.5"/>
<rect x="471.6" y="267.6" width="1.8" height="1.8" rx="0.5"/>
<rect x="474.4" y="267.9" width="1.8" height="1.8" rx="0.5"/>
<rect x="477.2" y="267.9" width="1.8" height="1.8" rx="0.5"/>
<rect x="480" y="268.1" width="1.8" height="1.8" rx="0.5"/>
<rect x="482.8" y="268.1" width="1.8" height="1.8" rx="0.5"/>
<rect x="485.6" y="267.9" width="1.8" height="1.8" rx="0.5"/>
<rect x="488.4" y="267.6" width="1.8" height="1.8" rx="0.5"/>
<rect x="491.2" y="267.3" width="1.8" height="1.8" rx="0.5"/>
<rect x="494" y="266.9" width="1.8" height="1.8" rx="0.5"/>
<rect x="496.8" y="266.9" width="1.8" height="1.8" rx="0.5"/>
<rect x="475.8" y="271.3" width="1.8" height="1.8" rx="0.5"/>
<rect x="478.6" y="272.1" width="1.8" height="1.8" rx="0.5"/>
<rect x="481.4" y="272.3" width="1.8" height="1.8" rx="0.5"/>
<rect x="484.2" y="271.6" width="1.8" height="1.8" rx="0.5"/>
<rect x="473" y="273.1" width="1.8" height="1.8" rx="0.5"/>
<rect x="489.8" y="273.6" width="1.8" height="1.8" rx="0.5"/>
<rect x="475.8" y="274.3" width="1.8" height="1.8" rx="0.5"/>
<rect x="478.6" y="274.9" width="1.8" height="1.8" rx="0.5"/>
<rect x="481.4" y="275.6" width="1.8" height="1.8" rx="0.5"/>
<rect x="484.2" y="275.1" width="1.8" height="1.8" rx="0.5"/>
<rect x="487" y="274.6" width="1.8" height="1.8" rx="0.5"/>
<rect x="467.4" y="277.1" width="1.8" height="1.8" rx="0.5"/>
<rect x="470.2" y="277.6" width="1.8" height="1.8" rx="0.5"/>
<rect x="473" y="277.9" width="1.8" height="1.8" rx="0.5"/>
<rect x="475.8" y="278.1" width="1.8" height="1.8" rx="0.5"/>
<rect x="478.6" y="278.6" width="1.8" height="1.8" rx="0.5"/>
<rect x="481.4" y="278.9" width="1.8" height="1.8" rx="0.5"/>
<rect x="484.2" y="278.6" width="1.8" height="1.8" rx="0.5"/>
<rect x="487" y="278.1" width="1.8" height="1.8" rx="0.5"/>
<rect x="489.8" y="277.9" width="1.8" height="1.8" rx="0.5"/>
<rect x="492.6" y="277.6" width="1.8" height="1.8" rx="0.5"/>
<rect x="495.4" y="277.1" width="1.8" height="1.8" rx="0.5"/>
<rect x="478.6" y="279.6" width="1.8" height="1.8" rx="0.5"/>
<rect x="481.4" y="279.1" width="1.8" height="1.8" rx="0.5"/>
<rect x="478.6" y="281.1" width="1.8" height="1.8" rx="0.5"/>
<rect x="481.4" y="282.6" width="1.8" height="1.8" rx="0.5"/>
<rect x="484.2" y="282.1" width="1.8" height="1.8" rx="0.5"/>
<rect x="484.2" y="283.9" width="1.8" height="1.8" rx="0.5"/>
<rect x="478.6" y="284.6" width="1.8" height="1.8" rx="0.5"/>
<rect x="481.4" y="285.9" width="1.8" height="1.8" rx="0.5"/>
<rect x="467.4" y="286.3" width="1.8" height="1.8" rx="0.5"/>
<rect x="470.2" y="287.1" width="1.8" height="1.8" rx="0.5"/>
<rect x="473" y="287.6" width="1.8" height="1.8" rx="0.5"/>
<rect x="475.8" y="288.1" width="1.8" height="1.8" rx="0.5"/>
<rect x="478.6" y="288.6" width="1.8" height="1.8" rx="0.5"/>
<rect x="481.4" y="289.1" width="1.8" height="1.8" rx="0.5"/>
<rect x="484.2" y="288.6" width="1.8" height="1.8" rx="0.5"/>
<rect x="487" y="288.1" width="1.8" height="1.8" rx="0.5"/>
<rect x="489.8" y="287.6" width="1.8" height="1.8" rx="0.5"/>
<rect x="492.6" y="287.1" width="1.8" height="1.8" rx="0.5"/>
<rect x="495.4" y="286.3" width="1.8" height="1.8" rx="0.5"/>
<rect x="481.4" y="292.1" width="1.8" height="1.8" rx="0.5"/>
<rect x="477.2" y="293.6" width="1.8" height="1.8" rx="0.5"/>
<rect x="482.8" y="293.9" width="1.8" height="1.8" rx="0.5"/>
<rect x="485.6" y="293.3" width="1.8" height="1.8" rx="0.5"/>
<rect x="477.2" y="295.6" width="1.8" height="1.8" rx="0.5"/>
<rect x="480" y="295.1" width="1.8" height="1.8" rx="0.5"/>
<rect x="480" y="297.1" width="1.8" height="1.8" rx="0.5"/>
<rect x="482.8" y="298.3" width="1.8" height="1.8" rx="0.5"/>
<rect x="485.6" y="296.9" width="1.8" height="1.8" rx="0.5"/>
<rect x="485.6" y="298.6" width="1.8" height="1.8" rx="0.5"/>
<rect x="477.2" y="300.6" width="1.8" height="1.8" rx="0.5"/>
<rect x="480" y="301.1" width="1.8" height="1.8" rx="0.5"/>
<rect x="482.8" y="300.9" width="1.8" height="1.8" rx="0.5"/>
<rect x="477.2" y="302.3" width="1.8" height="1.8" rx="0.5"/>
<rect x="485.6" y="302.9" width="1.8" height="1.8" rx="0.5"/>
<rect x="482.8" y="303.9" width="1.8" height="1.8" rx="0.5"/>
<rect x="480" y="305.1" width="1.8" height="1.8" rx="0.5"/>
<rect x="478.6" y="306.6" width="1.8" height="1.8" rx="0.5"/>
<rect x="484.2" y="308.3" width="1.8" height="1.8" rx="0.5"/>
<rect x="481.4" y="309.1" width="1.8" height="1.8" rx="0.5"/>
<rect x="480" y="310.6" width="1.8" height="1.8" rx="0.5"/>
<rect x="482.8" y="312.6" width="1.8" height="1.8" rx="0.5"/>
<rect x="478.6" y="326.9" width="1.8" height="1.8" rx="0.5"/>
<rect x="481.4" y="326.9" width="1.8" height="1.8" rx="0.5"/>
<rect x="484.2" y="326.9" width="1.8" height="1.8" rx="0.5"/>
</g>
<rect x="0" y="0" width="520" height="1" fill="#5a5a5a"/><rect x="0" y="0" width="1" height="369" fill="#666"/><rect x="0" y="367.7" width="520" height="1.3" fill="#666"/><rect x="518.85" y="0" width="1.15" height="369" fill="#6a6a6a"/><rect x="514.7" y="1" width="1" height="366" fill="#f0f0f0"/>
</svg>
</body></html>
